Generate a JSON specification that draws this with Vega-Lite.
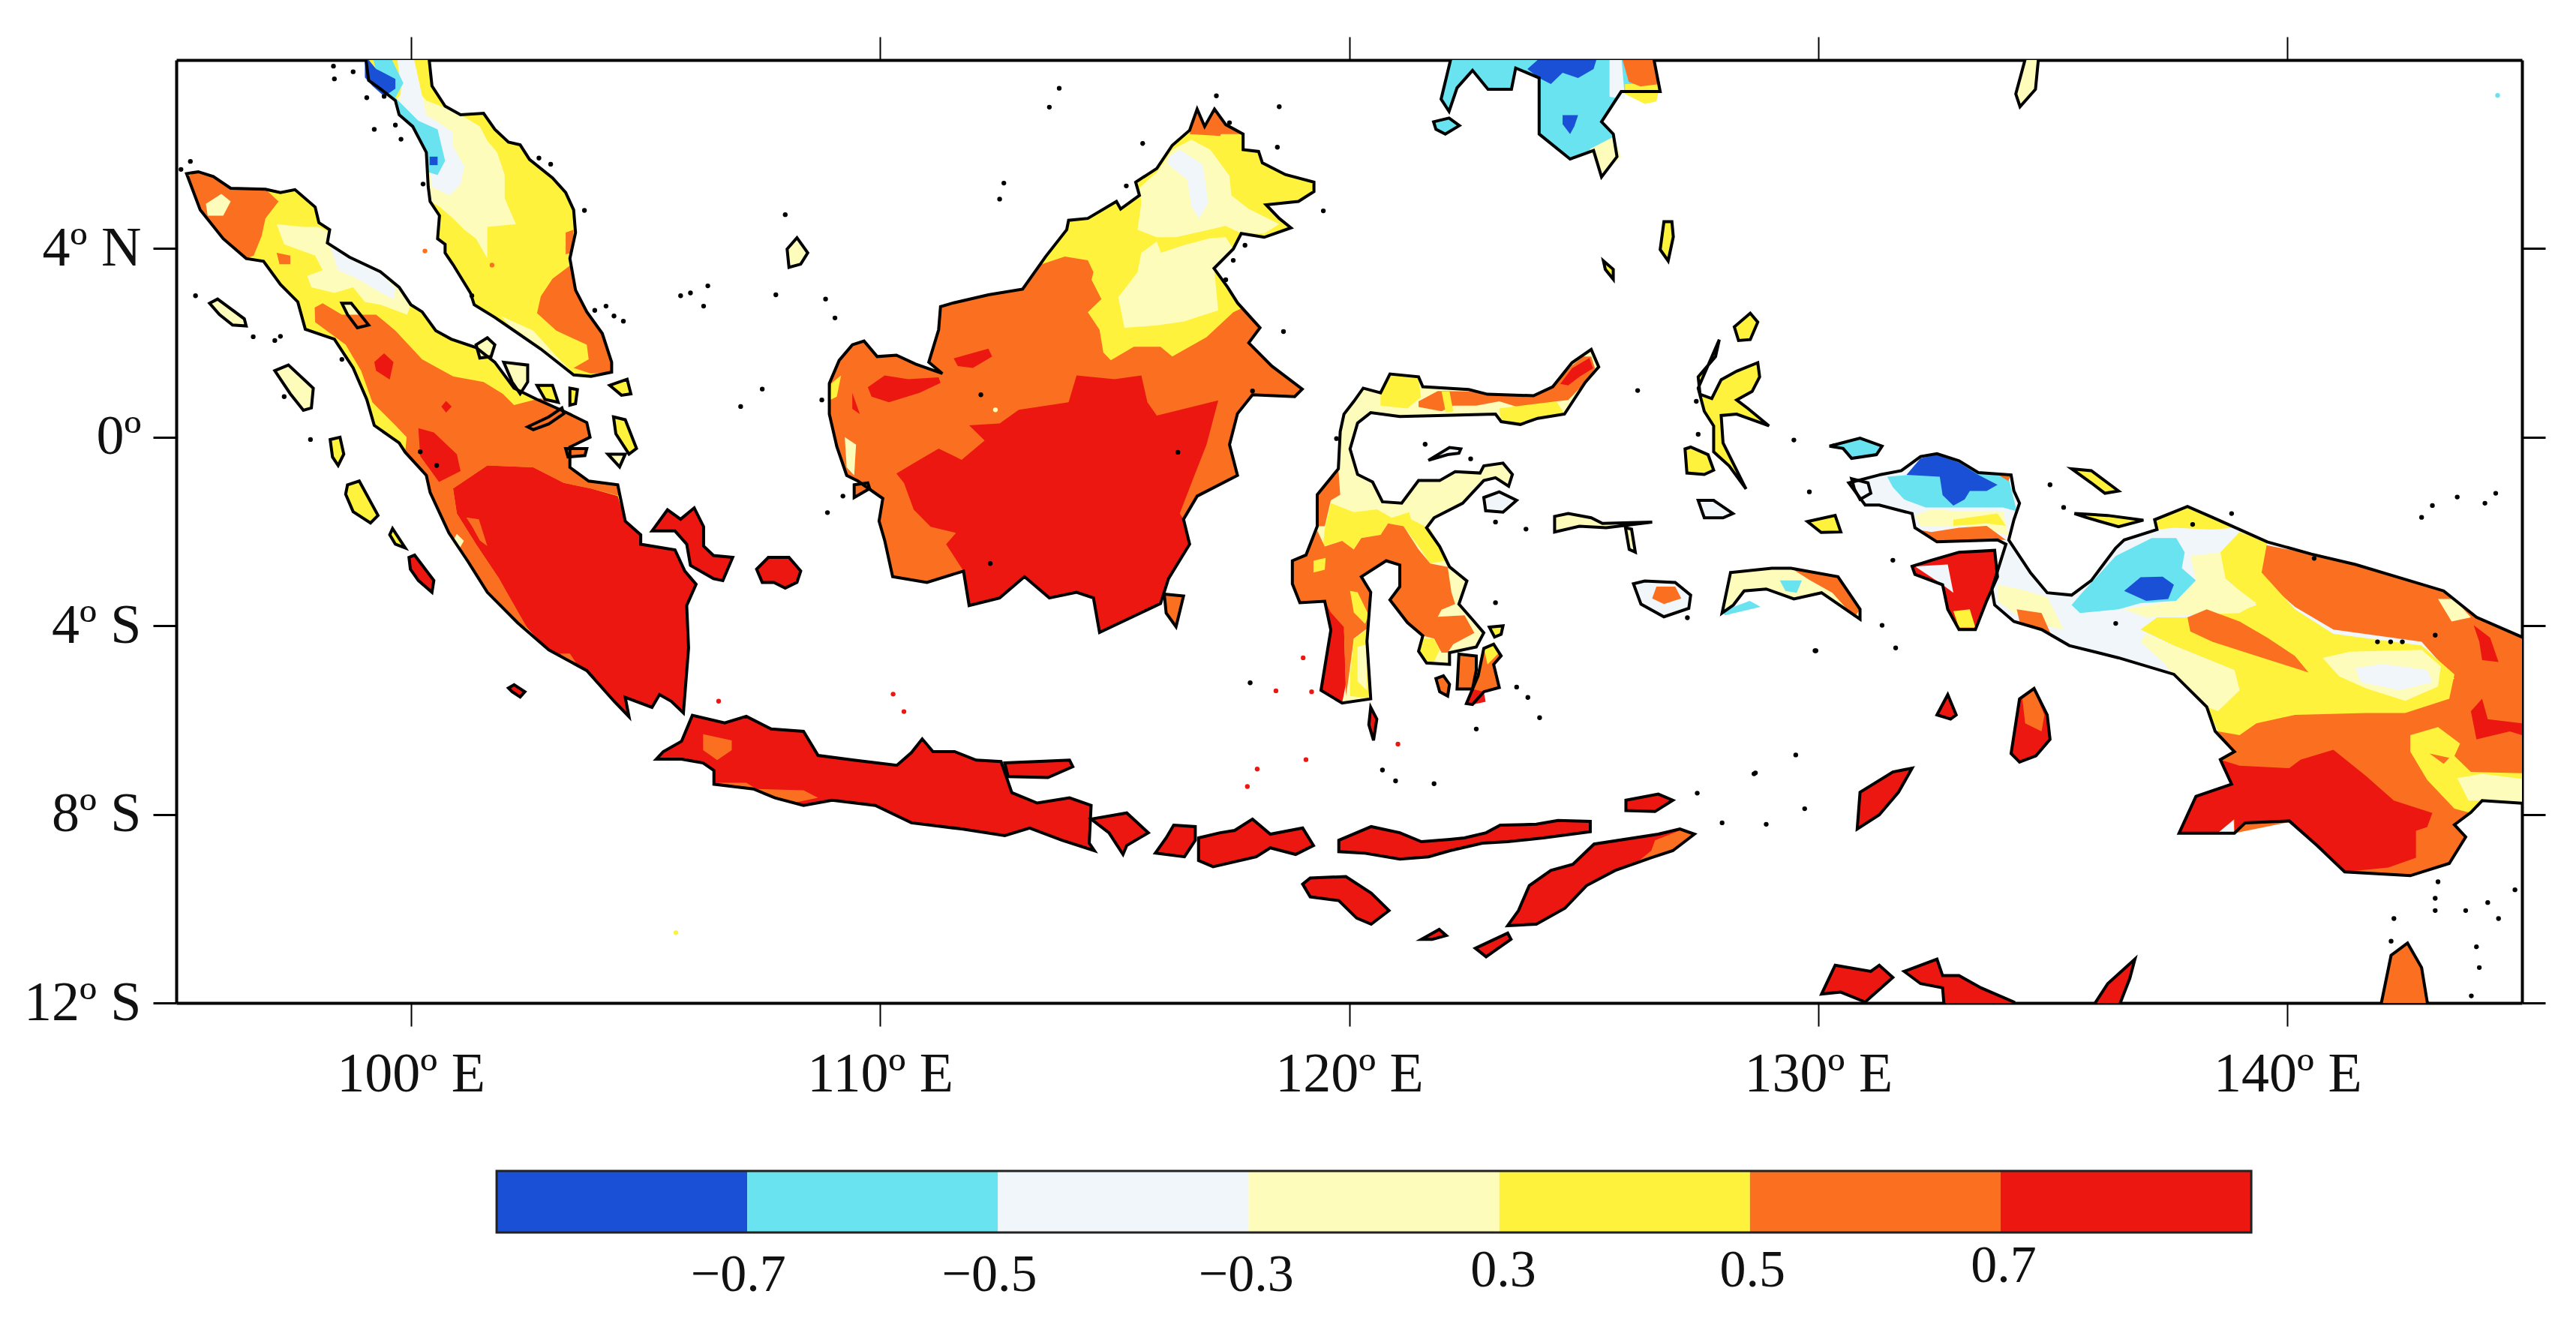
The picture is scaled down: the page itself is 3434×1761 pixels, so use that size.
{"$schema":"https://vega.github.io/schema/vega-lite/v6.json","background":"white","padding":{"left":31,"top":48,"right":0,"bottom":0},"config":{"font":"Liberation Serif","view":{"stroke":null}},"datasets":{"coast":[
{"p":"sum","c":"yellow","lon":95.22,"lat":5.59},{"p":"sum","c":"yellow","lon":95.47,"lat":5.63},{"p":"sum","c":"yellow","lon":95.79,"lat":5.53},{"p":"sum","c":"yellow","lon":96.16,"lat":5.28},{"p":"sum","c":"yellow","lon":96.9,"lat":5.26},{"p":"sum","c":"yellow","lon":97.22,"lat":5.19},{"p":"sum","c":"yellow","lon":97.53,"lat":5.25},{"p":"sum","c":"yellow","lon":97.96,"lat":4.88},{"p":"sum","c":"yellow","lon":98.04,"lat":4.55},{"p":"sum","c":"yellow","lon":98.27,"lat":4.4},{"p":"sum","c":"yellow","lon":98.22,"lat":4.12},{"p":"sum","c":"yellow","lon":98.69,"lat":3.82},{"p":"sum","c":"yellow","lon":99.35,"lat":3.51},{"p":"sum","c":"yellow","lon":99.75,"lat":3.18},{"p":"sum","c":"yellow","lon":100.0,"lat":2.81},{"p":"sum","c":"yellow","lon":100.24,"lat":2.66},{"p":"sum","c":"yellow","lon":100.53,"lat":2.26},{"p":"sum","c":"yellow","lon":100.86,"lat":2.08},{"p":"sum","c":"yellow","lon":101.39,"lat":1.9},{"p":"sum","c":"yellow","lon":101.79,"lat":1.59},{"p":"sum","c":"yellow","lon":102.2,"lat":1.04},{"p":"sum","c":"yellow","lon":102.69,"lat":0.8},{"p":"sum","c":"yellow","lon":103.26,"lat":0.55},{"p":"sum","c":"yellow","lon":103.75,"lat":0.31},{"p":"sum","c":"yellow","lon":103.82,"lat":0},{"p":"sum","c":"yellow","lon":103.39,"lat":-0.21},{"p":"sum","c":"yellow","lon":103.39,"lat":-0.64},{"p":"sum","c":"yellow","lon":103.79,"lat":-0.93},{"p":"sum","c":"yellow","lon":104.41,"lat":-1.01},{"p":"sum","c":"yellow","lon":104.57,"lat":-1.78},{"p":"sum","c":"yellow","lon":104.9,"lat":-2.07},{"p":"sum","c":"yellow","lon":104.9,"lat":-2.27},{"p":"sum","c":"yellow","lon":105.63,"lat":-2.39},{"p":"sum","c":"yellow","lon":105.84,"lat":-2.84},{"p":"sum","c":"yellow","lon":106.08,"lat":-3.12},{"p":"sum","c":"yellow","lon":105.88,"lat":-3.57},{"p":"sum","c":"yellow","lon":105.92,"lat":-4.47},{"p":"sum","c":"yellow","lon":105.81,"lat":-5.85},{"p":"sum","c":"yellow","lon":105.55,"lat":-5.6},{"p":"sum","c":"yellow","lon":105.3,"lat":-5.46},{"p":"sum","c":"yellow","lon":105.14,"lat":-5.73},{"p":"sum","c":"yellow","lon":104.57,"lat":-5.52},{"p":"sum","c":"yellow","lon":104.65,"lat":-5.93},{"p":"sum","c":"yellow","lon":104.33,"lat":-5.6},{"p":"sum","c":"yellow","lon":103.75,"lat":-4.95},{"p":"sum","c":"yellow","lon":102.94,"lat":-4.51},{"p":"sum","c":"yellow","lon":102.28,"lat":-3.94},{"p":"sum","c":"yellow","lon":101.63,"lat":-3.29},{"p":"sum","c":"yellow","lon":101.22,"lat":-2.64},{"p":"sum","c":"yellow","lon":100.81,"lat":-2.03},{"p":"sum","c":"yellow","lon":100.41,"lat":-1.17},{"p":"sum","c":"yellow","lon":100.33,"lat":-0.81},{"p":"sum","c":"yellow","lon":99.88,"lat":-0.32},{"p":"sum","c":"yellow","lon":99.75,"lat":-0.12},{"p":"sum","c":"yellow","lon":99.22,"lat":0.25},{"p":"sum","c":"yellow","lon":99.06,"lat":0.8},{"p":"sum","c":"yellow","lon":98.77,"lat":1.47},{"p":"sum","c":"yellow","lon":98.37,"lat":2.08},{"p":"sum","c":"yellow","lon":97.75,"lat":2.29},{"p":"sum","c":"yellow","lon":97.59,"lat":2.87},{"p":"sum","c":"yellow","lon":97.22,"lat":3.24},{"p":"sum","c":"yellow","lon":96.86,"lat":3.73},{"p":"sum","c":"yellow","lon":96.49,"lat":3.79},{"p":"sum","c":"yellow","lon":96.0,"lat":4.21},{"p":"sum","c":"yellow","lon":95.51,"lat":4.82},
{"p":"mal","c":"yellow","lon":100.37,"lat":8.2},{"p":"mal","c":"yellow","lon":100.45,"lat":7.45},{"p":"mal","c":"yellow","lon":100.73,"lat":7.02},{"p":"mal","c":"yellow","lon":101.06,"lat":6.84},{"p":"mal","c":"yellow","lon":101.55,"lat":6.87},{"p":"mal","c":"yellow","lon":101.79,"lat":6.53},{"p":"mal","c":"yellow","lon":102.08,"lat":6.26},{"p":"mal","c":"yellow","lon":102.33,"lat":6.2},{"p":"mal","c":"yellow","lon":102.53,"lat":5.89},{"p":"mal","c":"yellow","lon":103.02,"lat":5.5},{"p":"mal","c":"yellow","lon":103.3,"lat":5.19},{"p":"mal","c":"yellow","lon":103.47,"lat":4.82},{"p":"mal","c":"yellow","lon":103.51,"lat":4.34},{"p":"mal","c":"yellow","lon":103.39,"lat":3.79},{"p":"mal","c":"yellow","lon":103.51,"lat":3.12},{"p":"mal","c":"yellow","lon":103.75,"lat":2.66},{"p":"mal","c":"yellow","lon":104.08,"lat":2.2},{"p":"mal","c":"yellow","lon":104.28,"lat":1.59},{"p":"mal","c":"yellow","lon":104.28,"lat":1.38},{"p":"mal","c":"yellow","lon":103.84,"lat":1.29},{"p":"mal","c":"yellow","lon":103.47,"lat":1.32},{"p":"mal","c":"yellow","lon":102.77,"lat":1.87},{"p":"mal","c":"yellow","lon":102.2,"lat":2.26},{"p":"mal","c":"yellow","lon":101.79,"lat":2.54},{"p":"mal","c":"yellow","lon":101.35,"lat":2.81},{"p":"mal","c":"yellow","lon":101.27,"lat":3.06},{"p":"mal","c":"yellow","lon":100.9,"lat":3.66},{"p":"mal","c":"yellow","lon":100.73,"lat":3.91},{"p":"mal","c":"yellow","lon":100.73,"lat":4.09},{"p":"mal","c":"yellow","lon":100.57,"lat":4.21},{"p":"mal","c":"yellow","lon":100.61,"lat":4.7},{"p":"mal","c":"yellow","lon":100.41,"lat":5.0},{"p":"mal","c":"yellow","lon":100.37,"lat":5.31},{"p":"mal","c":"yellow","lon":100.33,"lat":6.04},{"p":"mal","c":"yellow","lon":100.04,"lat":6.59},{"p":"mal","c":"yellow","lon":99.75,"lat":6.84},{"p":"mal","c":"yellow","lon":99.67,"lat":7.14},{"p":"mal","c":"yellow","lon":99.35,"lat":7.39},{"p":"mal","c":"yellow","lon":99.1,"lat":7.57},{"p":"mal","c":"yellow","lon":99.02,"lat":8.2},
{"p":"sim","c":"pale","lon":95.71,"lat":2.84},{"p":"sim","c":"pale","lon":95.88,"lat":2.93},{"p":"sim","c":"pale","lon":96.45,"lat":2.51},{"p":"sim","c":"pale","lon":96.49,"lat":2.36},{"p":"sim","c":"pale","lon":96.2,"lat":2.38},{"p":"sim","c":"pale","lon":95.92,"lat":2.6},
{"p":"nia","c":"pale","lon":97.1,"lat":1.41},{"p":"nia","c":"pale","lon":97.39,"lat":1.53},{"p":"nia","c":"pale","lon":97.92,"lat":1.04},{"p":"nia","c":"pale","lon":97.88,"lat":0.62},{"p":"nia","c":"pale","lon":97.71,"lat":0.57},{"p":"nia","c":"pale","lon":97.43,"lat":0.92},
{"p":"sib","c":"yellow","lon":98.65,"lat":-1.01},{"p":"sib","c":"yellow","lon":98.9,"lat":-0.93},{"p":"sib","c":"yellow","lon":99.3,"lat":-1.66},{"p":"sib","c":"yellow","lon":99.14,"lat":-1.82},{"p":"sib","c":"yellow","lon":98.77,"lat":-1.58},{"p":"sib","c":"yellow","lon":98.61,"lat":-1.21},
{"p":"sip","c":"yellow","lon":99.55,"lat":-2.07},{"p":"sip","c":"yellow","lon":99.61,"lat":-1.94},{"p":"sip","c":"yellow","lon":99.88,"lat":-2.35},{"p":"sip","c":"yellow","lon":99.67,"lat":-2.27},
{"p":"pag","c":"red","lon":99.96,"lat":-2.55},{"p":"pag","c":"red","lon":100.08,"lat":-2.5},{"p":"pag","c":"red","lon":100.49,"lat":-3.04},{"p":"pag","c":"red","lon":100.45,"lat":-3.29},{"p":"pag","c":"red","lon":100.16,"lat":-3.04},{"p":"pag","c":"red","lon":99.99,"lat":-2.8},
{"p":"eng","c":"red","lon":102.08,"lat":-5.32},{"p":"eng","c":"red","lon":102.2,"lat":-5.25},{"p":"eng","c":"red","lon":102.43,"lat":-5.4},{"p":"eng","c":"red","lon":102.33,"lat":-5.51},{"p":"eng","c":"red","lon":102.16,"lat":-5.4},
{"p":"bat","c":"yellow","lon":98.28,"lat":-0.05},{"p":"bat","c":"yellow","lon":98.49,"lat":0},{"p":"bat","c":"yellow","lon":98.57,"lat":-0.36},{"p":"bat","c":"yellow","lon":98.45,"lat":-0.6},{"p":"bat","c":"yellow","lon":98.33,"lat":-0.42},
{"p":"tob","c":"pale","lon":98.53,"lat":2.84},{"p":"tob","c":"pale","lon":98.73,"lat":2.84},{"p":"tob","c":"pale","lon":99.1,"lat":2.38},{"p":"tob","c":"pale","lon":98.86,"lat":2.32},{"p":"tob","c":"pale","lon":98.65,"lat":2.6},
{"p":"ban","c":"red","lon":105.14,"lat":-1.99},{"p":"ban","c":"red","lon":105.47,"lat":-1.54},{"p":"ban","c":"red","lon":105.75,"lat":-1.74},{"p":"ban","c":"red","lon":106.04,"lat":-1.5},{"p":"ban","c":"red","lon":106.24,"lat":-1.9},{"p":"ban","c":"red","lon":106.24,"lat":-2.31},{"p":"ban","c":"red","lon":106.45,"lat":-2.51},{"p":"ban","c":"red","lon":106.86,"lat":-2.55},{"p":"ban","c":"red","lon":106.65,"lat":-3.04},{"p":"ban","c":"red","lon":106.45,"lat":-3.0},{"p":"ban","c":"red","lon":105.96,"lat":-2.72},{"p":"ban","c":"red","lon":105.88,"lat":-2.27},{"p":"ban","c":"red","lon":105.63,"lat":-1.99},
{"p":"bel","c":"red","lon":107.37,"lat":-2.8},{"p":"bel","c":"red","lon":107.62,"lat":-2.55},{"p":"bel","c":"red","lon":108.06,"lat":-2.55},{"p":"bel","c":"red","lon":108.31,"lat":-2.84},{"p":"bel","c":"red","lon":108.23,"lat":-3.08},{"p":"bel","c":"red","lon":107.98,"lat":-3.2},{"p":"bel","c":"red","lon":107.74,"lat":-3.08},{"p":"bel","c":"red","lon":107.49,"lat":-3.08},
{"p":"r1","c":"pale","lon":101.98,"lat":1.59},{"p":"r1","c":"pale","lon":102.49,"lat":1.53},{"p":"r1","c":"pale","lon":102.49,"lat":1.17},{"p":"r1","c":"pale","lon":102.33,"lat":0.92},{"p":"r1","c":"pale","lon":102.16,"lat":1.17},
{"p":"r2","c":"pale","lon":101.39,"lat":1.96},{"p":"r2","c":"pale","lon":101.63,"lat":2.11},{"p":"r2","c":"pale","lon":101.79,"lat":1.96},{"p":"r2","c":"pale","lon":101.71,"lat":1.71},{"p":"r2","c":"pale","lon":101.47,"lat":1.68},
{"p":"r3","c":"yellow","lon":102.69,"lat":1.1},{"p":"r3","c":"yellow","lon":103.02,"lat":1.1},{"p":"r3","c":"yellow","lon":103.14,"lat":0.74},{"p":"r3","c":"yellow","lon":102.86,"lat":0.8},
{"p":"r4","c":"yellow","lon":104.24,"lat":1.1},{"p":"r4","c":"yellow","lon":104.61,"lat":1.23},{"p":"r4","c":"yellow","lon":104.69,"lat":0.92},{"p":"r4","c":"yellow","lon":104.49,"lat":0.89},
{"p":"r5","c":"yellow","lon":103.39,"lat":1.04},{"p":"r5","c":"yellow","lon":103.55,"lat":1.01},{"p":"r5","c":"yellow","lon":103.51,"lat":0.71},{"p":"r5","c":"yellow","lon":103.39,"lat":0.68},
{"p":"r6","c":"yellow","lon":104.32,"lat":0.43},{"p":"r6","c":"yellow","lon":104.57,"lat":0.37},{"p":"r6","c":"yellow","lon":104.81,"lat":-0.24},{"p":"r6","c":"yellow","lon":104.65,"lat":-0.36},{"p":"r6","c":"yellow","lon":104.37,"lat":0.07},
{"p":"r7","c":"pale","lon":104.2,"lat":-0.36},{"p":"r7","c":"pale","lon":104.57,"lat":-0.36},{"p":"r7","c":"pale","lon":104.45,"lat":-0.63},
{"p":"r8","c":"orange","lon":103.3,"lat":-0.24},{"p":"r8","c":"orange","lon":103.75,"lat":-0.24},{"p":"r8","c":"orange","lon":103.71,"lat":-0.39},{"p":"r8","c":"orange","lon":103.35,"lat":-0.42},
{"p":"r9","c":"orange","lon":102.49,"lat":0.22},{"p":"r9","c":"orange","lon":102.94,"lat":0.43},{"p":"r9","c":"orange","lon":103.22,"lat":0.62},{"p":"r9","c":"orange","lon":103.26,"lat":0.5},{"p":"r9","c":"orange","lon":102.94,"lat":0.28},{"p":"r9","c":"orange","lon":102.61,"lat":0.16},
{"p":"bor","c":"orange","lon":109.41,"lat":1.96},{"p":"bor","c":"orange","lon":109.66,"lat":2.04},{"p":"bor","c":"orange","lon":109.94,"lat":1.71},{"p":"bor","c":"orange","lon":110.35,"lat":1.74},{"p":"bor","c":"orange","lon":110.76,"lat":1.55},{"p":"bor","c":"orange","lon":111.33,"lat":1.35},{"p":"bor","c":"orange","lon":111.04,"lat":1.59},{"p":"bor","c":"orange","lon":111.25,"lat":2.28},{"p":"bor","c":"orange","lon":111.29,"lat":2.77},{"p":"bor","c":"orange","lon":111.57,"lat":2.85},{"p":"bor","c":"orange","lon":112.31,"lat":3.02},{"p":"bor","c":"orange","lon":113.04,"lat":3.14},{"p":"bor","c":"orange","lon":113.53,"lat":3.83},{"p":"bor","c":"orange","lon":113.98,"lat":4.4},{"p":"bor","c":"orange","lon":114.02,"lat":4.6},{"p":"bor","c":"orange","lon":114.43,"lat":4.64},{"p":"bor","c":"orange","lon":115.04,"lat":5.0},{"p":"bor","c":"orange","lon":115.13,"lat":4.84},{"p":"bor","c":"orange","lon":115.53,"lat":5.13},{"p":"bor","c":"orange","lon":115.45,"lat":5.41},{"p":"bor","c":"orange","lon":115.9,"lat":5.7},{"p":"bor","c":"orange","lon":116.23,"lat":6.19},{"p":"bor","c":"orange","lon":116.6,"lat":6.51},{"p":"bor","c":"orange","lon":116.76,"lat":6.96},{"p":"bor","c":"orange","lon":116.92,"lat":6.59},{"p":"bor","c":"orange","lon":117.13,"lat":6.96},{"p":"bor","c":"orange","lon":117.37,"lat":6.63},{"p":"bor","c":"orange","lon":117.74,"lat":6.43},{"p":"bor","c":"orange","lon":117.74,"lat":6.1},{"p":"bor","c":"orange","lon":118.07,"lat":6.06},{"p":"bor","c":"orange","lon":118.15,"lat":5.82},{"p":"bor","c":"orange","lon":118.64,"lat":5.57},{"p":"bor","c":"orange","lon":119.25,"lat":5.41},{"p":"bor","c":"orange","lon":119.25,"lat":5.21},{"p":"bor","c":"orange","lon":118.92,"lat":5.0},{"p":"bor","c":"orange","lon":118.23,"lat":4.93},{"p":"bor","c":"orange","lon":118.51,"lat":4.64},{"p":"bor","c":"orange","lon":118.76,"lat":4.44},{"p":"bor","c":"orange","lon":118.19,"lat":4.24},{"p":"bor","c":"orange","lon":117.7,"lat":4.32},{"p":"bor","c":"orange","lon":117.53,"lat":3.99},{"p":"bor","c":"orange","lon":117.12,"lat":3.58},{"p":"bor","c":"orange","lon":117.41,"lat":3.18},{"p":"bor","c":"orange","lon":117.62,"lat":2.85},{"p":"bor","c":"orange","lon":118.1,"lat":2.32},{"p":"bor","c":"orange","lon":117.86,"lat":2.0},{"p":"bor","c":"orange","lon":118.35,"lat":1.51},{"p":"bor","c":"orange","lon":119.0,"lat":1.02},{"p":"bor","c":"orange","lon":118.84,"lat":0.86},{"p":"bor","c":"orange","lon":117.94,"lat":0.9},{"p":"bor","c":"orange","lon":117.62,"lat":0.5},{"p":"bor","c":"orange","lon":117.45,"lat":-0.16},{"p":"bor","c":"orange","lon":117.62,"lat":-0.81},{"p":"bor","c":"orange","lon":116.76,"lat":-1.25},{"p":"bor","c":"orange","lon":116.47,"lat":-1.74},{"p":"bor","c":"orange","lon":116.6,"lat":-2.27},{"p":"bor","c":"orange","lon":116.15,"lat":-3.0},{"p":"bor","c":"orange","lon":115.98,"lat":-3.53},{"p":"bor","c":"orange","lon":114.68,"lat":-4.14},{"p":"bor","c":"orange","lon":114.55,"lat":-3.41},{"p":"bor","c":"orange","lon":114.19,"lat":-3.29},{"p":"bor","c":"orange","lon":113.61,"lat":-3.41},{"p":"bor","c":"orange","lon":113.08,"lat":-2.96},{"p":"bor","c":"orange","lon":112.55,"lat":-3.41},{"p":"bor","c":"orange","lon":111.9,"lat":-3.57},{"p":"bor","c":"orange","lon":111.78,"lat":-2.84},{"p":"bor","c":"orange","lon":111.0,"lat":-3.08},{"p":"bor","c":"orange","lon":110.27,"lat":-2.96},{"p":"bor","c":"orange","lon":110.1,"lat":-2.19},{"p":"bor","c":"orange","lon":109.98,"lat":-1.78},{"p":"bor","c":"orange","lon":110.06,"lat":-1.3},{"p":"bor","c":"orange","lon":109.53,"lat":-0.93},{"p":"bor","c":"orange","lon":109.29,"lat":-0.81},{"p":"bor","c":"orange","lon":109.08,"lat":-0.2},{"p":"bor","c":"orange","lon":108.92,"lat":0.49},{"p":"bor","c":"orange","lon":108.92,"lat":1.14},{"p":"bor","c":"orange","lon":109.13,"lat":1.63},
{"p":"lau","c":"orange","lon":116.06,"lat":-3.33},{"p":"lau","c":"orange","lon":116.47,"lat":-3.37},{"p":"lau","c":"orange","lon":116.31,"lat":-4.02},{"p":"lau","c":"orange","lon":116.1,"lat":-3.73},
{"p":"nat","c":"pale","lon":108.02,"lat":3.99},{"p":"nat","c":"pale","lon":108.23,"lat":4.23},{"p":"nat","c":"pale","lon":108.46,"lat":3.91},{"p":"nat","c":"pale","lon":108.31,"lat":3.67},{"p":"nat","c":"pale","lon":108.06,"lat":3.6},
{"p":"kar","c":"orange","lon":109.45,"lat":-1.01},{"p":"kar","c":"orange","lon":109.74,"lat":-0.97},{"p":"kar","c":"orange","lon":109.78,"lat":-1.09},{"p":"kar","c":"orange","lon":109.45,"lat":-1.28},
{"p":"sul","c":"pale","lon":125.16,"lat":1.86},{"p":"sul","c":"pale","lon":125.32,"lat":1.49},{"p":"sul","c":"pale","lon":125.03,"lat":1.16},{"p":"sul","c":"pale","lon":124.59,"lat":0.49},{"p":"sul","c":"pale","lon":124.02,"lat":0.4},{"p":"sul","c":"pale","lon":123.65,"lat":0.27},{"p":"sul","c":"pale","lon":123.24,"lat":0.33},{"p":"sul","c":"pale","lon":123.12,"lat":0.49},{"p":"sul","c":"pale","lon":121.89,"lat":0.46},{"p":"sul","c":"pale","lon":121.08,"lat":0.44},{"p":"sul","c":"pale","lon":120.46,"lat":0.52},{"p":"sul","c":"pale","lon":120.18,"lat":0.3},{"p":"sul","c":"pale","lon":120.02,"lat":-0.25},{"p":"sul","c":"pale","lon":120.18,"lat":-0.79},{"p":"sul","c":"pale","lon":120.5,"lat":-0.95},{"p":"sul","c":"pale","lon":120.71,"lat":-1.37},{"p":"sul","c":"pale","lon":121.12,"lat":-1.4},{"p":"sul","c":"pale","lon":121.48,"lat":-0.92},{"p":"sul","c":"pale","lon":121.93,"lat":-0.92},{"p":"sul","c":"pale","lon":122.26,"lat":-0.73},{"p":"sul","c":"pale","lon":122.79,"lat":-0.76},{"p":"sul","c":"pale","lon":122.87,"lat":-0.61},{"p":"sul","c":"pale","lon":123.28,"lat":-0.55},{"p":"sul","c":"pale","lon":123.48,"lat":-0.79},{"p":"sul","c":"pale","lon":123.4,"lat":-1.04},{"p":"sul","c":"pale","lon":123.12,"lat":-0.86},{"p":"sul","c":"pale","lon":122.87,"lat":-0.92},{"p":"sul","c":"pale","lon":122.42,"lat":-1.4},{"p":"sul","c":"pale","lon":121.81,"lat":-1.71},{"p":"sul","c":"pale","lon":121.65,"lat":-1.92},{"p":"sul","c":"pale","lon":121.93,"lat":-2.32},{"p":"sul","c":"pale","lon":122.14,"lat":-2.75},{"p":"sul","c":"pale","lon":122.51,"lat":-3.05},{"p":"sul","c":"pale","lon":122.34,"lat":-3.54},{"p":"sul","c":"pale","lon":122.63,"lat":-3.87},{"p":"sul","c":"pale","lon":122.87,"lat":-4.15},{"p":"sul","c":"pale","lon":122.71,"lat":-4.45},{"p":"sul","c":"pale","lon":122.14,"lat":-4.57},{"p":"sul","c":"pale","lon":122.14,"lat":-4.82},{"p":"sul","c":"pale","lon":121.65,"lat":-4.79},{"p":"sul","c":"pale","lon":121.48,"lat":-4.54},{"p":"sul","c":"pale","lon":121.57,"lat":-4.21},{"p":"sul","c":"pale","lon":121.24,"lat":-3.93},{"p":"sul","c":"pale","lon":120.87,"lat":-3.45},{"p":"sul","c":"pale","lon":121.08,"lat":-3.17},{"p":"sul","c":"pale","lon":121.08,"lat":-2.71},{"p":"sul","c":"pale","lon":120.79,"lat":-2.62},{"p":"sul","c":"pale","lon":120.26,"lat":-2.96},{"p":"sul","c":"pale","lon":120.46,"lat":-3.29},{"p":"sul","c":"pale","lon":120.38,"lat":-4.33},{"p":"sul","c":"pale","lon":120.46,"lat":-5.55},{"p":"sul","c":"pale","lon":119.85,"lat":-5.64},{"p":"sul","c":"pale","lon":119.4,"lat":-5.37},{"p":"sul","c":"pale","lon":119.61,"lat":-4.09},{"p":"sul","c":"pale","lon":119.48,"lat":-3.48},{"p":"sul","c":"pale","lon":118.95,"lat":-3.51},{"p":"sul","c":"pale","lon":118.79,"lat":-3.11},{"p":"sul","c":"pale","lon":118.79,"lat":-2.62},{"p":"sul","c":"pale","lon":119.08,"lat":-2.5},{"p":"sul","c":"pale","lon":119.32,"lat":-1.89},{"p":"sul","c":"pale","lon":119.32,"lat":-1.22},{"p":"sul","c":"pale","lon":119.77,"lat":-0.67},{"p":"sul","c":"pale","lon":119.81,"lat":0.12},{"p":"sul","c":"pale","lon":119.89,"lat":0.49},{"p":"sul","c":"pale","lon":120.1,"lat":0.76},{"p":"sul","c":"pale","lon":120.3,"lat":1.04},{"p":"sul","c":"pale","lon":120.67,"lat":0.94},{"p":"sul","c":"pale","lon":120.87,"lat":1.34},{"p":"sul","c":"pale","lon":121.48,"lat":1.28},{"p":"sul","c":"pale","lon":121.57,"lat":1.07},{"p":"sul","c":"pale","lon":122.55,"lat":1.01},{"p":"sul","c":"pale","lon":122.95,"lat":0.91},{"p":"sul","c":"pale","lon":123.93,"lat":0.88},{"p":"sul","c":"pale","lon":124.34,"lat":1.07},{"p":"sul","c":"pale","lon":124.75,"lat":1.58},
{"p":"mun","c":"orange","lon":122.34,"lat":-4.6},{"p":"mun","c":"orange","lon":122.71,"lat":-4.64},{"p":"mun","c":"orange","lon":122.71,"lat":-4.94},{"p":"mun","c":"orange","lon":122.63,"lat":-5.34},{"p":"mun","c":"orange","lon":122.3,"lat":-5.34},
{"p":"but","c":"orange","lon":122.87,"lat":-4.48},{"p":"but","c":"orange","lon":123.08,"lat":-4.39},{"p":"but","c":"orange","lon":123.24,"lat":-4.64},{"p":"but","c":"orange","lon":123.08,"lat":-4.82},{"p":"but","c":"orange","lon":123.2,"lat":-5.31},{"p":"but","c":"orange","lon":122.87,"lat":-5.4},{"p":"but","c":"orange","lon":122.63,"lat":-5.67},{"p":"but","c":"orange","lon":122.5,"lat":-5.65},{"p":"but","c":"orange","lon":122.63,"lat":-5.34},{"p":"but","c":"orange","lon":122.75,"lat":-5.06},
{"p":"kab","c":"orange","lon":121.85,"lat":-5.12},{"p":"kab","c":"orange","lon":122.01,"lat":-5.06},{"p":"kab","c":"orange","lon":122.14,"lat":-5.24},{"p":"kab","c":"orange","lon":122.1,"lat":-5.49},{"p":"kab","c":"orange","lon":121.93,"lat":-5.4},
{"p":"waw","c":"yellow","lon":122.99,"lat":-4.03},{"p":"waw","c":"yellow","lon":123.28,"lat":-4.0},{"p":"waw","c":"yellow","lon":123.24,"lat":-4.18},{"p":"waw","c":"yellow","lon":123.1,"lat":-4.24},
{"p":"sel","c":"red","lon":120.46,"lat":-5.73},{"p":"sel","c":"red","lon":120.59,"lat":-5.98},{"p":"sel","c":"red","lon":120.52,"lat":-6.43},{"p":"sel","c":"red","lon":120.42,"lat":-6.1},
{"p":"pel","c":"pale","lon":124.38,"lat":-1.68},{"p":"pel","c":"pale","lon":124.67,"lat":-1.62},{"p":"pel","c":"pale","lon":125.16,"lat":-1.71},{"p":"pel","c":"pale","lon":125.4,"lat":-1.83},{"p":"pel","c":"pale","lon":126.46,"lat":-1.8},{"p":"pel","c":"pale","lon":125.48,"lat":-1.92},{"p":"pel","c":"pale","lon":124.91,"lat":-1.89},{"p":"pel","c":"pale","lon":124.38,"lat":-2.01},
{"p":"man","c":"pale","lon":125.89,"lat":-1.92},{"p":"man","c":"pale","lon":126.02,"lat":-1.95},{"p":"man","c":"pale","lon":126.1,"lat":-2.44},{"p":"man","c":"pale","lon":125.97,"lat":-2.38},
{"p":"tog","c":"white","lon":121.69,"lat":-0.49},{"p":"tog","c":"white","lon":122.14,"lat":-0.22},{"p":"tog","c":"white","lon":122.38,"lat":-0.25},{"p":"tog","c":"white","lon":122.34,"lat":-0.34},{"p":"tog","c":"white","lon":122.1,"lat":-0.37},
{"p":"bag","c":"white","lon":122.87,"lat":-1.28},{"p":"bag","c":"white","lon":123.2,"lat":-1.16},{"p":"bag","c":"white","lon":123.57,"lat":-1.34},{"p":"bag","c":"white","lon":123.28,"lat":-1.59},{"p":"bag","c":"white","lon":122.91,"lat":-1.56},
{"p":"hal","c":"yellow","lon":127.89,"lat":2.07},{"p":"hal","c":"yellow","lon":127.81,"lat":1.71},{"p":"hal","c":"yellow","lon":127.44,"lat":1.28},{"p":"hal","c":"yellow","lon":127.48,"lat":0.91},{"p":"hal","c":"yellow","lon":127.73,"lat":0.82},{"p":"hal","c":"yellow","lon":127.93,"lat":1.22},{"p":"hal","c":"yellow","lon":128.26,"lat":1.4},{"p":"hal","c":"yellow","lon":128.71,"lat":1.58},{"p":"hal","c":"yellow","lon":128.75,"lat":1.28},{"p":"hal","c":"yellow","lon":128.59,"lat":0.97},{"p":"hal","c":"yellow","lon":128.26,"lat":0.79},{"p":"hal","c":"yellow","lon":128.5,"lat":0.61},{"p":"hal","c":"yellow","lon":128.95,"lat":0.24},{"p":"hal","c":"yellow","lon":128.26,"lat":0.49},{"p":"hal","c":"yellow","lon":127.93,"lat":0.46},{"p":"hal","c":"yellow","lon":127.97,"lat":-0.12},{"p":"hal","c":"yellow","lon":128.46,"lat":-1.1},{"p":"hal","c":"yellow","lon":128.1,"lat":-0.61},{"p":"hal","c":"yellow","lon":127.77,"lat":-0.31},{"p":"hal","c":"yellow","lon":127.77,"lat":0.24},{"p":"hal","c":"yellow","lon":127.57,"lat":0.55},{"p":"hal","c":"yellow","lon":127.44,"lat":1.04},
{"p":"mor","c":"yellow","lon":128.21,"lat":2.34},{"p":"mor","c":"yellow","lon":128.55,"lat":2.63},{"p":"mor","c":"yellow","lon":128.71,"lat":2.44},{"p":"mor","c":"yellow","lon":128.55,"lat":2.07},{"p":"mor","c":"yellow","lon":128.3,"lat":2.05},
{"p":"obi","c":"white","lon":127.44,"lat":-1.34},{"p":"obi","c":"white","lon":127.77,"lat":-1.34},{"p":"obi","c":"white","lon":128.18,"lat":-1.62},{"p":"obi","c":"white","lon":127.97,"lat":-1.71},{"p":"obi","c":"white","lon":127.57,"lat":-1.71},
{"p":"bac","c":"yellow","lon":127.16,"lat":-0.25},{"p":"bac","c":"yellow","lon":127.28,"lat":-0.21},{"p":"bac","c":"yellow","lon":127.65,"lat":-0.37},{"p":"bac","c":"yellow","lon":127.77,"lat":-0.7},{"p":"bac","c":"yellow","lon":127.57,"lat":-0.79},{"p":"bac","c":"yellow","lon":127.2,"lat":-0.76},
{"p":"mis","c":"yellow","lon":129.77,"lat":-1.79},{"p":"mis","c":"yellow","lon":130.36,"lat":-1.66},{"p":"mis","c":"yellow","lon":130.48,"lat":-2.01},{"p":"mis","c":"yellow","lon":130.06,"lat":-2.02},
{"p":"bur","c":"white","lon":126.06,"lat":-3.11},{"p":"bur","c":"white","lon":126.3,"lat":-3.05},{"p":"bur","c":"white","lon":126.95,"lat":-3.08},{"p":"bur","c":"white","lon":127.28,"lat":-3.35},{"p":"bur","c":"white","lon":127.24,"lat":-3.63},{"p":"bur","c":"white","lon":126.71,"lat":-3.81},{"p":"bur","c":"white","lon":126.22,"lat":-3.54},
{"p":"ser","c":"pale","lon":128.13,"lat":-2.87},{"p":"ser","c":"pale","lon":129.01,"lat":-2.78},{"p":"ser","c":"pale","lon":129.42,"lat":-2.78},{"p":"ser","c":"pale","lon":130.42,"lat":-2.96},{"p":"ser","c":"pale","lon":130.89,"lat":-3.65},{"p":"ser","c":"pale","lon":130.89,"lat":-3.86},{"p":"ser","c":"pale","lon":130.07,"lat":-3.3},{"p":"ser","c":"pale","lon":129.48,"lat":-3.43},{"p":"ser","c":"pale","lon":128.89,"lat":-3.22},{"p":"ser","c":"pale","lon":128.42,"lat":-3.26},{"p":"ser","c":"pale","lon":128.19,"lat":-3.56},{"p":"ser","c":"pale","lon":127.95,"lat":-3.73},
{"p":"pap","c":"white","lon":131.3,"lat":-0.8},{"p":"pap","c":"white","lon":131.77,"lat":-0.71},{"p":"pap","c":"white","lon":132.18,"lat":-0.41},{"p":"pap","c":"white","lon":132.53,"lat":-0.35},{"p":"pap","c":"white","lon":133.0,"lat":-0.5},{"p":"pap","c":"white","lon":133.41,"lat":-0.75},{"p":"pap","c":"white","lon":134.11,"lat":-0.8},{"p":"pap","c":"white","lon":134.17,"lat":-1.14},{"p":"pap","c":"white","lon":134.29,"lat":-1.4},{"p":"pap","c":"white","lon":134.17,"lat":-1.75},{"p":"pap","c":"white","lon":134.06,"lat":-2.18},{"p":"pap","c":"white","lon":134.52,"lat":-2.87},{"p":"pap","c":"white","lon":134.88,"lat":-3.3},{"p":"pap","c":"white","lon":135.4,"lat":-3.35},{"p":"pap","c":"white","lon":135.82,"lat":-3.04},{"p":"pap","c":"white","lon":136.34,"lat":-2.35},{"p":"pap","c":"white","lon":136.52,"lat":-2.18},{"p":"pap","c":"white","lon":137.22,"lat":-1.96},{"p":"pap","c":"white","lon":137.17,"lat":-1.75},{"p":"pap","c":"white","lon":137.87,"lat":-1.47},{"p":"pap","c":"white","lon":138.4,"lat":-1.7},{"p":"pap","c":"white","lon":139.57,"lat":-2.22},{"p":"pap","c":"white","lon":140.51,"lat":-2.48},{"p":"pap","c":"white","lon":141.45,"lat":-2.7},{"p":"pap","c":"white","lon":143.33,"lat":-3.26},{"p":"pap","c":"white","lon":144.03,"lat":-3.82},{"p":"pap","c":"white","lon":145.6,"lat":-4.5},{"p":"pap","c":"white","lon":145.6,"lat":-7.8},{"p":"pap","c":"white","lon":144.15,"lat":-7.71},{"p":"pap","c":"white","lon":143.91,"lat":-7.96},{"p":"pap","c":"white","lon":143.56,"lat":-8.22},{"p":"pap","c":"white","lon":143.8,"lat":-8.48},{"p":"pap","c":"white","lon":143.45,"lat":-9.04},{"p":"pap","c":"white","lon":142.62,"lat":-9.3},{"p":"pap","c":"white","lon":141.22,"lat":-9.22},{"p":"pap","c":"white","lon":140.63,"lat":-8.66},{"p":"pap","c":"white","lon":140.04,"lat":-8.14},{"p":"pap","c":"white","lon":139.1,"lat":-8.18},{"p":"pap","c":"white","lon":138.87,"lat":-8.4},{"p":"pap","c":"white","lon":137.69,"lat":-8.4},{"p":"pap","c":"white","lon":138.05,"lat":-7.62},{"p":"pap","c":"white","lon":138.81,"lat":-7.36},{"p":"pap","c":"white","lon":138.57,"lat":-6.84},{"p":"pap","c":"white","lon":138.87,"lat":-6.67},{"p":"pap","c":"white","lon":138.46,"lat":-6.24},{"p":"pap","c":"white","lon":138.28,"lat":-5.72},{"p":"pap","c":"white","lon":137.58,"lat":-5.03},{"p":"pap","c":"white","lon":136.4,"lat":-4.68},{"p":"pap","c":"white","lon":135.35,"lat":-4.42},{"p":"pap","c":"white","lon":134.76,"lat":-4.08},{"p":"pap","c":"white","lon":134.17,"lat":-3.91},{"p":"pap","c":"white","lon":133.76,"lat":-3.56},{"p":"pap","c":"white","lon":133.7,"lat":-3.22},{"p":"pap","c":"white","lon":134.0,"lat":-2.27},{"p":"pap","c":"white","lon":133.82,"lat":-2.18},{"p":"pap","c":"white","lon":132.53,"lat":-2.22},{"p":"pap","c":"white","lon":132.06,"lat":-1.92},{"p":"pap","c":"white","lon":132.0,"lat":-1.62},{"p":"pap","c":"white","lon":131.3,"lat":-1.44},{"p":"pap","c":"white","lon":131.0,"lat":-1.44},{"p":"pap","c":"white","lon":130.65,"lat":-0.97},
{"p":"bom","c":"red","lon":132.0,"lat":-2.74},{"p":"bom","c":"red","lon":132.41,"lat":-2.61},{"p":"bom","c":"red","lon":133.0,"lat":-2.44},{"p":"bom","c":"red","lon":133.76,"lat":-2.4},{"p":"bom","c":"red","lon":133.82,"lat":-2.96},{"p":"bom","c":"red","lon":133.59,"lat":-3.47},{"p":"bom","c":"red","lon":133.35,"lat":-4.08},{"p":"bom","c":"red","lon":133.0,"lat":-4.08},{"p":"bom","c":"red","lon":132.76,"lat":-3.65},{"p":"bom","c":"red","lon":132.65,"lat":-3.13},{"p":"bom","c":"red","lon":132.06,"lat":-2.91},
{"p":"bia","c":"yellow","lon":135.4,"lat":-0.67},{"p":"bia","c":"yellow","lon":135.82,"lat":-0.71},{"p":"bia","c":"yellow","lon":136.4,"lat":-1.14},{"p":"bia","c":"yellow","lon":136.11,"lat":-1.19},{"p":"bia","c":"yellow","lon":135.82,"lat":-0.97},
{"p":"yap","c":"yellow","lon":135.46,"lat":-1.62},{"p":"yap","c":"yellow","lon":136.17,"lat":-1.66},{"p":"yap","c":"yellow","lon":136.93,"lat":-1.76},{"p":"yap","c":"yellow","lon":136.4,"lat":-1.9},{"p":"yap","c":"yellow","lon":135.7,"lat":-1.7},
{"p":"wai","c":"cyan","lon":130.24,"lat":-0.19},{"p":"wai","c":"cyan","lon":130.89,"lat":-0.02},{"p":"wai","c":"cyan","lon":131.36,"lat":-0.19},{"p":"wai","c":"cyan","lon":131.24,"lat":-0.37},{"p":"wai","c":"cyan","lon":130.71,"lat":-0.45},{"p":"wai","c":"cyan","lon":130.53,"lat":-0.24},
{"p":"sal","c":"white","lon":130.71,"lat":-0.88},{"p":"sal","c":"white","lon":131.06,"lat":-0.97},{"p":"sal","c":"white","lon":131.12,"lat":-1.19},{"p":"sal","c":"white","lon":130.89,"lat":-1.32},{"p":"sal","c":"white","lon":130.77,"lat":-1.1},
{"p":"aru","c":"red","lon":134.11,"lat":-6.71},{"p":"aru","c":"red","lon":134.29,"lat":-5.55},{"p":"aru","c":"red","lon":134.6,"lat":-5.33},{"p":"aru","c":"red","lon":134.88,"lat":-5.89},{"p":"aru","c":"red","lon":134.94,"lat":-6.41},{"p":"aru","c":"red","lon":134.64,"lat":-6.76},{"p":"aru","c":"red","lon":134.29,"lat":-6.89},
{"p":"tan","c":"red","lon":130.83,"lat":-8.31},{"p":"tan","c":"red","lon":130.89,"lat":-7.53},{"p":"tan","c":"red","lon":131.59,"lat":-7.1},{"p":"tan","c":"red","lon":132.0,"lat":-7.02},{"p":"tan","c":"red","lon":131.71,"lat":-7.53},{"p":"tan","c":"red","lon":131.3,"lat":-8.01},
{"p":"kai","c":"red","lon":132.53,"lat":-5.89},{"p":"kai","c":"red","lon":132.76,"lat":-5.46},{"p":"kai","c":"red","lon":132.94,"lat":-5.89},{"p":"kai","c":"red","lon":132.82,"lat":-5.98},
{"p":"jav","c":"red","lon":105.23,"lat":-6.83},{"p":"jav","c":"red","lon":105.38,"lat":-6.67},{"p":"jav","c":"red","lon":105.77,"lat":-6.45},{"p":"jav","c":"red","lon":106.0,"lat":-5.9},{"p":"jav","c":"red","lon":106.69,"lat":-6.06},{"p":"jav","c":"red","lon":107.15,"lat":-5.92},{"p":"jav","c":"red","lon":107.68,"lat":-6.19},{"p":"jav","c":"red","lon":108.37,"lat":-6.24},{"p":"jav","c":"red","lon":108.68,"lat":-6.75},{"p":"jav","c":"red","lon":109.44,"lat":-6.85},{"p":"jav","c":"red","lon":110.36,"lat":-6.96},{"p":"jav","c":"red","lon":110.67,"lat":-6.69},{"p":"jav","c":"red","lon":110.9,"lat":-6.4},{"p":"jav","c":"red","lon":111.13,"lat":-6.67},{"p":"jav","c":"red","lon":111.59,"lat":-6.67},{"p":"jav","c":"red","lon":112.05,"lat":-6.85},{"p":"jav","c":"red","lon":112.58,"lat":-6.88},{"p":"jav","c":"red","lon":112.81,"lat":-7.54},{"p":"jav","c":"red","lon":113.35,"lat":-7.76},{"p":"jav","c":"red","lon":114.04,"lat":-7.65},{"p":"jav","c":"red","lon":114.5,"lat":-7.81},{"p":"jav","c":"red","lon":114.46,"lat":-8.61},{"p":"jav","c":"red","lon":114.57,"lat":-8.77},{"p":"jav","c":"red","lon":113.88,"lat":-8.55},{"p":"jav","c":"red","lon":113.19,"lat":-8.29},{"p":"jav","c":"red","lon":112.66,"lat":-8.45},{"p":"jav","c":"red","lon":111.74,"lat":-8.31},{"p":"jav","c":"red","lon":110.67,"lat":-8.18},{"p":"jav","c":"red","lon":109.9,"lat":-7.81},{"p":"jav","c":"red","lon":108.98,"lat":-7.7},{"p":"jav","c":"red","lon":108.37,"lat":-7.81},{"p":"jav","c":"red","lon":107.76,"lat":-7.65},{"p":"jav","c":"red","lon":107.3,"lat":-7.46},{"p":"jav","c":"red","lon":106.46,"lat":-7.36},{"p":"jav","c":"red","lon":106.46,"lat":-7.07},{"p":"jav","c":"red","lon":106.23,"lat":-6.91},{"p":"jav","c":"red","lon":105.77,"lat":-6.83},
{"p":"mad","c":"red","lon":112.66,"lat":-6.91},{"p":"mad","c":"red","lon":114.04,"lat":-6.85},{"p":"mad","c":"red","lon":114.11,"lat":-6.99},{"p":"mad","c":"red","lon":113.58,"lat":-7.22},{"p":"mad","c":"red","lon":112.73,"lat":-7.2},
{"p":"bal","c":"red","lon":114.5,"lat":-8.1},{"p":"bal","c":"red","lon":115.26,"lat":-7.97},{"p":"bal","c":"red","lon":115.72,"lat":-8.39},{"p":"bal","c":"red","lon":115.26,"lat":-8.66},{"p":"bal","c":"red","lon":115.18,"lat":-8.85},{"p":"bal","c":"red","lon":114.88,"lat":-8.39},
{"p":"lom","c":"red","lon":116.26,"lat":-8.23},{"p":"lom","c":"red","lon":116.72,"lat":-8.26},{"p":"lom","c":"red","lon":116.72,"lat":-8.55},{"p":"lom","c":"red","lon":116.49,"lat":-8.9},{"p":"lom","c":"red","lon":115.87,"lat":-8.82},{"p":"lom","c":"red","lon":116.1,"lat":-8.5},
{"p":"smb","c":"red","lon":116.79,"lat":-8.5},{"p":"smb","c":"red","lon":117.25,"lat":-8.39},{"p":"smb","c":"red","lon":117.56,"lat":-8.34},{"p":"smb","c":"red","lon":117.94,"lat":-8.1},{"p":"smb","c":"red","lon":118.32,"lat":-8.42},{"p":"smb","c":"red","lon":119.01,"lat":-8.29},{"p":"smb","c":"red","lon":119.24,"lat":-8.66},{"p":"smb","c":"red","lon":118.86,"lat":-8.85},{"p":"smb","c":"red","lon":118.32,"lat":-8.71},{"p":"smb","c":"red","lon":118.02,"lat":-8.9},{"p":"smb","c":"red","lon":117.1,"lat":-9.11},{"p":"smb","c":"red","lon":116.79,"lat":-8.98},
{"p":"flo","c":"red","lon":119.78,"lat":-8.55},{"p":"flo","c":"red","lon":120.47,"lat":-8.26},{"p":"flo","c":"red","lon":121.08,"lat":-8.39},{"p":"flo","c":"red","lon":121.54,"lat":-8.58},{"p":"flo","c":"red","lon":122.15,"lat":-8.53},{"p":"flo","c":"red","lon":122.46,"lat":-8.5},{"p":"flo","c":"red","lon":122.92,"lat":-8.39},{"p":"flo","c":"red","lon":123.22,"lat":-8.23},{"p":"flo","c":"red","lon":123.99,"lat":-8.21},{"p":"flo","c":"red","lon":124.45,"lat":-8.13},{"p":"flo","c":"red","lon":125.14,"lat":-8.15},{"p":"flo","c":"red","lon":125.14,"lat":-8.37},{"p":"flo","c":"red","lon":124.14,"lat":-8.5},{"p":"flo","c":"red","lon":123.38,"lat":-8.58},{"p":"flo","c":"red","lon":122.84,"lat":-8.61},{"p":"flo","c":"red","lon":122.15,"lat":-8.77},{"p":"flo","c":"red","lon":121.69,"lat":-8.9},{"p":"flo","c":"red","lon":121.08,"lat":-8.95},{"p":"flo","c":"red","lon":120.31,"lat":-8.82},{"p":"flo","c":"red","lon":119.78,"lat":-8.79},
{"p":"wet","c":"red","lon":125.9,"lat":-7.7},{"p":"wet","c":"red","lon":126.59,"lat":-7.57},{"p":"wet","c":"red","lon":126.9,"lat":-7.7},{"p":"wet","c":"red","lon":126.52,"lat":-7.94},{"p":"wet","c":"red","lon":125.9,"lat":-7.92},
{"p":"tim","c":"red","lon":123.38,"lat":-10.36},{"p":"tim","c":"red","lon":123.61,"lat":-10.04},{"p":"tim","c":"red","lon":123.84,"lat":-9.51},{"p":"tim","c":"red","lon":124.3,"lat":-9.19},{"p":"tim","c":"red","lon":124.77,"lat":-9.06},{"p":"tim","c":"red","lon":125.22,"lat":-8.63},{"p":"tim","c":"red","lon":126.59,"lat":-8.42},{"p":"tim","c":"red","lon":127.05,"lat":-8.31},{"p":"tim","c":"red","lon":127.36,"lat":-8.42},{"p":"tim","c":"red","lon":126.9,"lat":-8.77},{"p":"tim","c":"red","lon":126.44,"lat":-8.92},{"p":"tim","c":"red","lon":125.67,"lat":-9.19},{"p":"tim","c":"red","lon":125.06,"lat":-9.51},{"p":"tim","c":"red","lon":124.6,"lat":-9.99},{"p":"tim","c":"red","lon":123.99,"lat":-10.33},
{"p":"sba","c":"red","lon":119.01,"lat":-9.48},{"p":"sba","c":"red","lon":119.17,"lat":-9.35},{"p":"sba","c":"red","lon":119.93,"lat":-9.32},{"p":"sba","c":"red","lon":120.47,"lat":-9.67},{"p":"sba","c":"red","lon":120.85,"lat":-10.04},{"p":"sba","c":"red","lon":120.47,"lat":-10.33},{"p":"sba","c":"red","lon":120.16,"lat":-10.2},{"p":"sba","c":"red","lon":119.78,"lat":-9.83},{"p":"sba","c":"red","lon":119.17,"lat":-9.75},
{"p":"rot","c":"red","lon":122.69,"lat":-10.84},{"p":"rot","c":"red","lon":123.38,"lat":-10.52},{"p":"rot","c":"red","lon":123.45,"lat":-10.65},{"p":"rot","c":"red","lon":122.92,"lat":-11.02},
{"p":"sav","c":"red","lon":121.54,"lat":-10.65},{"p":"sav","c":"red","lon":121.92,"lat":-10.44},{"p":"sav","c":"red","lon":122.07,"lat":-10.57},{"p":"sav","c":"red","lon":121.77,"lat":-10.65},
{"p":"au1","c":"red","lon":130.07,"lat":-11.81},{"p":"au1","c":"red","lon":130.36,"lat":-11.2},{"p":"au1","c":"red","lon":131.12,"lat":-11.33},{"p":"au1","c":"red","lon":131.3,"lat":-11.2},{"p":"au1","c":"red","lon":131.59,"lat":-11.46},{"p":"au1","c":"red","lon":131.0,"lat":-11.98},{"p":"au1","c":"red","lon":130.48,"lat":-11.77},
{"p":"au2","c":"red","lon":131.83,"lat":-11.33},{"p":"au2","c":"red","lon":132.53,"lat":-11.07},{"p":"au2","c":"red","lon":132.65,"lat":-11.42},{"p":"au2","c":"red","lon":133.0,"lat":-11.42},{"p":"au2","c":"red","lon":133.47,"lat":-11.68},{"p":"au2","c":"red","lon":134.17,"lat":-11.98},{"p":"au2","c":"red","lon":134.17,"lat":-12.4},{"p":"au2","c":"red","lon":132.71,"lat":-12.4},{"p":"au2","c":"red","lon":132.65,"lat":-11.68},{"p":"au2","c":"red","lon":132.18,"lat":-11.59},
{"p":"au3","c":"red","lon":135.64,"lat":-12.4},{"p":"au3","c":"red","lon":136.17,"lat":-11.59},{"p":"au3","c":"red","lon":136.75,"lat":-11.07},{"p":"au3","c":"red","lon":136.64,"lat":-11.48},{"p":"au3","c":"red","lon":136.28,"lat":-12.4},
{"p":"au4","c":"orange","lon":141.92,"lat":-12.4},{"p":"au4","c":"orange","lon":142.21,"lat":-10.99},{"p":"au4","c":"orange","lon":142.56,"lat":-10.73},{"p":"au4","c":"orange","lon":142.86,"lat":-11.25},{"p":"au4","c":"orange","lon":142.98,"lat":-11.98},{"p":"au4","c":"orange","lon":143.33,"lat":-12.4},
{"p":"min","c":"cyan","lon":122.21,"lat":8.2},{"p":"min","c":"cyan","lon":121.96,"lat":7.17},{"p":"min","c":"cyan","lon":122.13,"lat":6.91},{"p":"min","c":"cyan","lon":122.3,"lat":7.41},{"p":"min","c":"cyan","lon":122.63,"lat":7.78},{"p":"min","c":"cyan","lon":122.96,"lat":7.38},{"p":"min","c":"cyan","lon":123.46,"lat":7.38},{"p":"min","c":"cyan","lon":123.55,"lat":7.83},{"p":"min","c":"cyan","lon":124.05,"lat":7.62},{"p":"min","c":"cyan","lon":124.05,"lat":6.85},{"p":"min","c":"cyan","lon":124.05,"lat":6.43},{"p":"min","c":"cyan","lon":124.71,"lat":5.9},{"p":"min","c":"cyan","lon":125.21,"lat":6.08},{"p":"min","c":"cyan","lon":125.38,"lat":5.52},{"p":"min","c":"cyan","lon":125.71,"lat":5.95},{"p":"min","c":"cyan","lon":125.63,"lat":6.43},{"p":"min","c":"cyan","lon":125.38,"lat":6.69},{"p":"min","c":"cyan","lon":125.8,"lat":7.33},{"p":"min","c":"cyan","lon":126.63,"lat":7.33},{"p":"min","c":"cyan","lon":126.46,"lat":8.2},
{"p":"pal","c":"pale","lon":134.46,"lat":8.2},{"p":"pal","c":"pale","lon":134.71,"lat":8.2},{"p":"pal","c":"pale","lon":134.63,"lat":7.38},{"p":"pal","c":"pale","lon":134.3,"lat":7.01},{"p":"pal","c":"pale","lon":134.21,"lat":7.28},
{"p":"bas","c":"cyan","lon":121.8,"lat":6.69},{"p":"bas","c":"cyan","lon":122.13,"lat":6.77},{"p":"bas","c":"cyan","lon":122.35,"lat":6.61},{"p":"bas","c":"cyan","lon":122.05,"lat":6.43},{"p":"bas","c":"cyan","lon":121.85,"lat":6.53},
{"p":"tal","c":"yellow","lon":126.71,"lat":4.57},{"p":"tal","c":"yellow","lon":126.88,"lat":4.57},{"p":"tal","c":"yellow","lon":126.91,"lat":4.25},{"p":"tal","c":"yellow","lon":126.8,"lat":3.74},{"p":"tal","c":"yellow","lon":126.63,"lat":3.98},
{"p":"san","c":"yellow","lon":125.42,"lat":3.74},{"p":"san","c":"yellow","lon":125.63,"lat":3.56},{"p":"san","c":"yellow","lon":125.63,"lat":3.35},{"p":"san","c":"yellow","lon":125.46,"lat":3.56}
],"zones":[
{"p":"z1","c":"orange","lon":95.26,"lat":5.55},{"p":"z1","c":"orange","lon":95.47,"lat":5.62},{"p":"z1","c":"orange","lon":95.79,"lat":5.53},{"p":"z1","c":"orange","lon":96.16,"lat":5.28},{"p":"z1","c":"orange","lon":96.9,"lat":5.26},{"p":"z1","c":"orange","lon":97.18,"lat":5.0},{"p":"z1","c":"orange","lon":96.9,"lat":4.64},{"p":"z1","c":"orange","lon":96.82,"lat":4.27},{"p":"z1","c":"orange","lon":96.65,"lat":3.85},{"p":"z1","c":"orange","lon":96.49,"lat":3.79},{"p":"z1","c":"orange","lon":96.0,"lat":4.21},{"p":"z1","c":"orange","lon":95.51,"lat":4.82},
{"p":"z2","c":"pale","lon":95.63,"lat":4.95},{"p":"z2","c":"pale","lon":95.96,"lat":5.16},{"p":"z2","c":"pale","lon":96.16,"lat":5.0},{"p":"z2","c":"pale","lon":96.0,"lat":4.7},{"p":"z2","c":"pale","lon":95.67,"lat":4.7},
{"p":"z3","c":"orange","lon":97.14,"lat":3.91},{"p":"z3","c":"orange","lon":97.43,"lat":3.85},{"p":"z3","c":"orange","lon":97.43,"lat":3.67},{"p":"z3","c":"orange","lon":97.2,"lat":3.67},
{"p":"z4","c":"pale","lon":98.04,"lat":4.46},{"p":"z4","c":"pale","lon":98.28,"lat":4.34},{"p":"z4","c":"pale","lon":98.24,"lat":4.12},{"p":"z4","c":"pale","lon":98.69,"lat":3.82},{"p":"z4","c":"pale","lon":99.35,"lat":3.51},{"p":"z4","c":"pale","lon":99.75,"lat":3.18},{"p":"z4","c":"pale","lon":100.0,"lat":2.81},{"p":"z4","c":"pale","lon":99.92,"lat":2.6},{"p":"z4","c":"pale","lon":99.35,"lat":2.81},{"p":"z4","c":"pale","lon":99.02,"lat":2.87},{"p":"z4","c":"pale","lon":98.77,"lat":3.18},{"p":"z4","c":"pale","lon":98.37,"lat":3.06},{"p":"z4","c":"pale","lon":97.88,"lat":3.18},{"p":"z4","c":"pale","lon":97.79,"lat":3.42},{"p":"z4","c":"pale","lon":98.12,"lat":3.54},{"p":"z4","c":"pale","lon":97.96,"lat":3.85},{"p":"z4","c":"pale","lon":97.3,"lat":4.09},{"p":"z4","c":"pale","lon":97.14,"lat":4.52},{"p":"z4","c":"pale","lon":97.7,"lat":4.46},
{"p":"z5","c":"white","lon":98.28,"lat":4.06},{"p":"z5","c":"white","lon":98.69,"lat":3.79},{"p":"z5","c":"white","lon":99.35,"lat":3.48},{"p":"z5","c":"white","lon":99.67,"lat":3.15},{"p":"z5","c":"white","lon":99.63,"lat":2.93},{"p":"z5","c":"white","lon":99.26,"lat":3.12},{"p":"z5","c":"white","lon":98.86,"lat":3.36},{"p":"z5","c":"white","lon":98.45,"lat":3.54},
{"p":"z6","c":"orange","lon":97.95,"lat":2.75},{"p":"z6","c":"orange","lon":98.12,"lat":2.84},{"p":"z6","c":"orange","lon":98.53,"lat":2.6},{"p":"z6","c":"orange","lon":99.26,"lat":2.6},{"p":"z6","c":"orange","lon":99.67,"lat":2.26},{"p":"z6","c":"orange","lon":100.24,"lat":1.65},{"p":"z6","c":"orange","lon":100.9,"lat":1.29},{"p":"z6","c":"orange","lon":101.55,"lat":1.17},{"p":"z6","c":"orange","lon":101.96,"lat":0.92},{"p":"z6","c":"orange","lon":102.2,"lat":0.68},{"p":"z6","c":"orange","lon":102.77,"lat":0.83},{"p":"z6","c":"orange","lon":103.26,"lat":0.55},{"p":"z6","c":"orange","lon":103.75,"lat":0.31},{"p":"z6","c":"orange","lon":103.82,"lat":0},{"p":"z6","c":"orange","lon":103.39,"lat":-0.21},{"p":"z6","c":"orange","lon":103.39,"lat":-0.64},{"p":"z6","c":"orange","lon":103.79,"lat":-0.93},{"p":"z6","c":"orange","lon":104.41,"lat":-1.01},{"p":"z6","c":"orange","lon":104.45,"lat":-1.25},{"p":"z6","c":"orange","lon":103.84,"lat":-1.09},{"p":"z6","c":"orange","lon":103.26,"lat":-0.97},{"p":"z6","c":"orange","lon":102.61,"lat":-0.64},{"p":"z6","c":"orange","lon":101.63,"lat":-0.6},{"p":"z6","c":"orange","lon":100.9,"lat":-1.09},{"p":"z6","c":"orange","lon":100.98,"lat":-1.62},{"p":"z6","c":"orange","lon":101.39,"lat":-2.27},{"p":"z6","c":"orange","lon":101.88,"lat":-3.0},{"p":"z6","c":"orange","lon":102.28,"lat":-3.65},{"p":"z6","c":"orange","lon":102.49,"lat":-4.06},{"p":"z6","c":"orange","lon":102.28,"lat":-3.94},{"p":"z6","c":"orange","lon":101.63,"lat":-3.29},{"p":"z6","c":"orange","lon":101.22,"lat":-2.64},{"p":"z6","c":"orange","lon":100.81,"lat":-2.03},{"p":"z6","c":"orange","lon":100.41,"lat":-1.17},{"p":"z6","c":"orange","lon":100.33,"lat":-0.81},{"p":"z6","c":"orange","lon":99.88,"lat":-0.32},{"p":"z6","c":"orange","lon":99.91,"lat":0},{"p":"z6","c":"orange","lon":99.67,"lat":0.25},{"p":"z6","c":"orange","lon":99.18,"lat":0.74},{"p":"z6","c":"orange","lon":98.94,"lat":1.41},{"p":"z6","c":"orange","lon":98.61,"lat":1.96},{"p":"z6","c":"orange","lon":97.96,"lat":2.44},
{"p":"z7","c":"red","lon":101.63,"lat":-0.6},{"p":"z7","c":"red","lon":102.61,"lat":-0.64},{"p":"z7","c":"red","lon":103.26,"lat":-0.97},{"p":"z7","c":"red","lon":103.84,"lat":-1.09},{"p":"z7","c":"red","lon":104.41,"lat":-1.25},{"p":"z7","c":"red","lon":104.57,"lat":-1.78},{"p":"z7","c":"red","lon":104.9,"lat":-2.07},{"p":"z7","c":"red","lon":104.9,"lat":-2.27},{"p":"z7","c":"red","lon":105.63,"lat":-2.39},{"p":"z7","c":"red","lon":105.84,"lat":-2.84},{"p":"z7","c":"red","lon":106.08,"lat":-3.12},{"p":"z7","c":"red","lon":105.88,"lat":-3.57},{"p":"z7","c":"red","lon":105.92,"lat":-4.47},{"p":"z7","c":"red","lon":105.81,"lat":-5.85},{"p":"z7","c":"red","lon":105.55,"lat":-5.6},{"p":"z7","c":"red","lon":105.3,"lat":-5.46},{"p":"z7","c":"red","lon":105.14,"lat":-5.73},{"p":"z7","c":"red","lon":104.57,"lat":-5.52},{"p":"z7","c":"red","lon":104.65,"lat":-5.93},{"p":"z7","c":"red","lon":104.33,"lat":-5.6},{"p":"z7","c":"red","lon":103.75,"lat":-4.95},{"p":"z7","c":"red","lon":102.94,"lat":-4.51},{"p":"z7","c":"red","lon":102.49,"lat":-4.06},{"p":"z7","c":"red","lon":101.88,"lat":-3.0},{"p":"z7","c":"red","lon":101.39,"lat":-2.27},{"p":"z7","c":"red","lon":100.98,"lat":-1.62},{"p":"z7","c":"red","lon":100.9,"lat":-1.09},
{"p":"z8","c":"orange","lon":103.18,"lat":-4.59},{"p":"z8","c":"orange","lon":103.39,"lat":-4.59},{"p":"z8","c":"orange","lon":103.55,"lat":-4.83},{"p":"z8","c":"orange","lon":103.31,"lat":-4.71},
{"p":"z9","c":"red","lon":100.16,"lat":0.19},{"p":"z9","c":"red","lon":100.49,"lat":0.1},{"p":"z9","c":"red","lon":100.98,"lat":-0.36},{"p":"z9","c":"red","lon":101.06,"lat":-0.72},{"p":"z9","c":"red","lon":100.6,"lat":-0.95},{"p":"z9","c":"red","lon":100.2,"lat":-0.4},
{"p":"z10","c":"red","lon":99.22,"lat":1.59},{"p":"z10","c":"red","lon":99.43,"lat":1.78},{"p":"z10","c":"red","lon":99.63,"lat":1.59},{"p":"z10","c":"red","lon":99.55,"lat":1.22},{"p":"z10","c":"red","lon":99.26,"lat":1.41},
{"p":"z11","c":"red","lon":100.65,"lat":0.65},{"p":"z11","c":"red","lon":100.75,"lat":0.77},{"p":"z11","c":"red","lon":100.87,"lat":0.65},{"p":"z11","c":"red","lon":100.75,"lat":0.52},
{"p":"z12","c":"pale","lon":100.88,"lat":-2.23},{"p":"z12","c":"pale","lon":100.98,"lat":-2.05},{"p":"z12","c":"pale","lon":101.13,"lat":-2.2},{"p":"z12","c":"pale","lon":101.02,"lat":-2.39},
{"p":"z13","c":"orange","lon":101.18,"lat":-1.7},{"p":"z13","c":"orange","lon":101.45,"lat":-1.74},{"p":"z13","c":"orange","lon":101.63,"lat":-2.31},{"p":"z13","c":"orange","lon":101.47,"lat":-2.19},{"p":"z13","c":"orange","lon":101.31,"lat":-1.9},
{"p":"m1","c":"pale","lon":100.0,"lat":7.51},{"p":"m1","c":"pale","lon":100.33,"lat":7.14},{"p":"m1","c":"pale","lon":100.73,"lat":6.99},{"p":"m1","c":"pale","lon":101.06,"lat":6.84},{"p":"m1","c":"pale","lon":101.47,"lat":6.59},{"p":"m1","c":"pale","lon":101.63,"lat":6.29},{"p":"m1","c":"pale","lon":101.84,"lat":6.04},{"p":"m1","c":"pale","lon":102.0,"lat":5.56},{"p":"m1","c":"pale","lon":102.0,"lat":5.07},{"p":"m1","c":"pale","lon":102.16,"lat":4.7},{"p":"m1","c":"pale","lon":102.24,"lat":4.52},{"p":"m1","c":"pale","lon":101.63,"lat":4.46},{"p":"m1","c":"pale","lon":101.63,"lat":3.79},{"p":"m1","c":"pale","lon":101.39,"lat":4.21},{"p":"m1","c":"pale","lon":101.14,"lat":4.4},{"p":"m1","c":"pale","lon":100.9,"lat":4.64},{"p":"m1","c":"pale","lon":100.61,"lat":4.89},{"p":"m1","c":"pale","lon":100.41,"lat":5.0},{"p":"m1","c":"pale","lon":100.37,"lat":5.31},{"p":"m1","c":"pale","lon":100.33,"lat":6.04},{"p":"m1","c":"pale","lon":100.04,"lat":6.59},{"p":"m1","c":"pale","lon":99.75,"lat":6.84},{"p":"m1","c":"pale","lon":99.67,"lat":7.14},
{"p":"m2","c":"white","lon":99.79,"lat":7.39},{"p":"m2","c":"white","lon":99.7,"lat":8.1},{"p":"m2","c":"white","lon":100.05,"lat":8.1},{"p":"m2","c":"white","lon":100.33,"lat":6.84},{"p":"m2","c":"white","lon":100.9,"lat":6.47},{"p":"m2","c":"white","lon":100.9,"lat":6.17},{"p":"m2","c":"white","lon":101.14,"lat":5.74},{"p":"m2","c":"white","lon":101.06,"lat":5.37},{"p":"m2","c":"white","lon":100.82,"lat":5.13},{"p":"m2","c":"white","lon":100.45,"lat":5.31},{"p":"m2","c":"white","lon":100.37,"lat":6.04},{"p":"m2","c":"white","lon":100.08,"lat":6.59},{"p":"m2","c":"white","lon":99.75,"lat":6.84},
{"p":"m3","c":"cyan","lon":99.18,"lat":8.1},{"p":"m3","c":"cyan","lon":99.55,"lat":8.1},{"p":"m3","c":"cyan","lon":99.84,"lat":7.51},{"p":"m3","c":"cyan","lon":99.67,"lat":7.2},{"p":"m3","c":"cyan","lon":100.16,"lat":6.71},{"p":"m3","c":"cyan","lon":100.57,"lat":6.53},{"p":"m3","c":"cyan","lon":100.73,"lat":5.86},{"p":"m3","c":"cyan","lon":100.57,"lat":5.56},{"p":"m3","c":"cyan","lon":100.37,"lat":5.62},{"p":"m3","c":"cyan","lon":100.33,"lat":6.04},{"p":"m3","c":"cyan","lon":100.04,"lat":6.59},{"p":"m3","c":"cyan","lon":99.75,"lat":6.84},{"p":"m3","c":"cyan","lon":99.67,"lat":7.14},{"p":"m3","c":"cyan","lon":99.35,"lat":7.39},
{"p":"m4","c":"blue","lon":99.02,"lat":8.1},{"p":"m4","c":"blue","lon":99.26,"lat":7.81},{"p":"m4","c":"blue","lon":99.67,"lat":7.6},{"p":"m4","c":"blue","lon":99.67,"lat":7.39},{"p":"m4","c":"blue","lon":99.43,"lat":7.23},{"p":"m4","c":"blue","lon":99.18,"lat":7.45},{"p":"m4","c":"blue","lon":99.02,"lat":7.63},
{"p":"m5","c":"blue","lon":100.4,"lat":5.95},{"p":"m5","c":"blue","lon":100.57,"lat":5.95},{"p":"m5","c":"blue","lon":100.57,"lat":5.77},{"p":"m5","c":"blue","lon":100.4,"lat":5.77},
{"p":"m6","c":"orange","lon":103.43,"lat":3.67},{"p":"m6","c":"orange","lon":103.51,"lat":3.12},{"p":"m6","c":"orange","lon":103.75,"lat":2.66},{"p":"m6","c":"orange","lon":104.08,"lat":2.2},{"p":"m6","c":"orange","lon":104.28,"lat":1.59},{"p":"m6","c":"orange","lon":104.28,"lat":1.38},{"p":"m6","c":"orange","lon":103.84,"lat":1.35},{"p":"m6","c":"orange","lon":103.47,"lat":1.47},{"p":"m6","c":"orange","lon":103.79,"lat":1.65},{"p":"m6","c":"orange","lon":103.75,"lat":1.96},{"p":"m6","c":"orange","lon":103.1,"lat":2.26},{"p":"m6","c":"orange","lon":102.69,"lat":2.63},{"p":"m6","c":"orange","lon":102.77,"lat":2.99},{"p":"m6","c":"orange","lon":103.02,"lat":3.36},
{"p":"m7","c":"pale","lon":101.92,"lat":2.57},{"p":"m7","c":"pale","lon":102.61,"lat":2.26},{"p":"m7","c":"pale","lon":103.1,"lat":1.72},{"p":"m7","c":"pale","lon":103.47,"lat":1.35},{"p":"m7","c":"pale","lon":102.77,"lat":1.87},{"p":"m7","c":"pale","lon":102.2,"lat":2.26},
{"p":"m8","c":"orange","lon":103.3,"lat":4.34},{"p":"m8","c":"orange","lon":103.47,"lat":4.4},{"p":"m8","c":"orange","lon":103.43,"lat":3.91},{"p":"m8","c":"orange","lon":103.3,"lat":3.88},
{"p":"b1","c":"red","lon":112.96,"lat":0.58},{"p":"b1","c":"red","lon":114.02,"lat":0.74},{"p":"b1","c":"red","lon":114.19,"lat":1.31},{"p":"b1","c":"red","lon":115.0,"lat":1.23},{"p":"b1","c":"red","lon":115.57,"lat":1.31},{"p":"b1","c":"red","lon":115.7,"lat":0.74},{"p":"b1","c":"red","lon":115.9,"lat":0.46},{"p":"b1","c":"red","lon":117.21,"lat":0.78},{"p":"b1","c":"red","lon":116.96,"lat":-0.16},{"p":"b1","c":"red","lon":116.64,"lat":-0.97},{"p":"b1","c":"red","lon":116.39,"lat":-1.62},{"p":"b1","c":"red","lon":116.47,"lat":-1.74},{"p":"b1","c":"red","lon":116.6,"lat":-2.27},{"p":"b1","c":"red","lon":116.15,"lat":-3.0},{"p":"b1","c":"red","lon":115.98,"lat":-3.53},{"p":"b1","c":"red","lon":114.68,"lat":-4.14},{"p":"b1","c":"red","lon":114.55,"lat":-3.41},{"p":"b1","c":"red","lon":114.19,"lat":-3.29},{"p":"b1","c":"red","lon":113.61,"lat":-3.41},{"p":"b1","c":"red","lon":113.08,"lat":-2.96},{"p":"b1","c":"red","lon":112.55,"lat":-3.41},{"p":"b1","c":"red","lon":111.9,"lat":-3.57},{"p":"b1","c":"red","lon":111.78,"lat":-2.84},{"p":"b1","c":"red","lon":111.41,"lat":-2.27},{"p":"b1","c":"red","lon":111.62,"lat":-2.03},{"p":"b1","c":"red","lon":111.08,"lat":-1.9},{"p":"b1","c":"red","lon":110.72,"lat":-1.54},{"p":"b1","c":"red","lon":110.51,"lat":-0.97},{"p":"b1","c":"red","lon":110.35,"lat":-0.77},{"p":"b1","c":"red","lon":110.84,"lat":-0.48},{"p":"b1","c":"red","lon":111.25,"lat":-0.24},{"p":"b1","c":"red","lon":111.74,"lat":-0.48},{"p":"b1","c":"red","lon":112.23,"lat":-0.07},{"p":"b1","c":"red","lon":111.9,"lat":0.25},{"p":"b1","c":"red","lon":112.55,"lat":0.29},
{"p":"b2","c":"red","lon":109.74,"lat":1.06},{"p":"b2","c":"red","lon":110.1,"lat":1.31},{"p":"b2","c":"red","lon":110.6,"lat":1.23},{"p":"b2","c":"red","lon":111.25,"lat":1.27},{"p":"b2","c":"red","lon":111.29,"lat":1.15},{"p":"b2","c":"red","lon":110.84,"lat":0.94},{"p":"b2","c":"red","lon":110.19,"lat":0.74},{"p":"b2","c":"red","lon":109.82,"lat":0.86},
{"p":"b3","c":"red","lon":111.57,"lat":1.67},{"p":"b3","c":"red","lon":112.31,"lat":1.88},{"p":"b3","c":"red","lon":112.39,"lat":1.71},{"p":"b3","c":"red","lon":111.98,"lat":1.47},{"p":"b3","c":"red","lon":111.66,"lat":1.51},
{"p":"b4","c":"red","lon":109.41,"lat":0.94},{"p":"b4","c":"red","lon":109.57,"lat":0.49},{"p":"b4","c":"red","lon":109.41,"lat":0.6},
{"p":"b5","c":"yellow","lon":113.45,"lat":3.67},{"p":"b5","c":"yellow","lon":113.94,"lat":3.83},{"p":"b5","c":"yellow","lon":114.43,"lat":3.75},{"p":"b5","c":"yellow","lon":114.55,"lat":3.5},{"p":"b5","c":"yellow","lon":114.51,"lat":3.34},{"p":"b5","c":"yellow","lon":114.72,"lat":2.93},{"p":"b5","c":"yellow","lon":114.43,"lat":2.65},{"p":"b5","c":"yellow","lon":114.68,"lat":2.28},{"p":"b5","c":"yellow","lon":114.76,"lat":1.8},{"p":"b5","c":"yellow","lon":114.92,"lat":1.63},{"p":"b5","c":"yellow","lon":115.41,"lat":1.92},{"p":"b5","c":"yellow","lon":115.98,"lat":1.92},{"p":"b5","c":"yellow","lon":116.23,"lat":1.71},{"p":"b5","c":"yellow","lon":116.96,"lat":2.12},{"p":"b5","c":"yellow","lon":117.53,"lat":2.65},{"p":"b5","c":"yellow","lon":117.7,"lat":2.73},{"p":"b5","c":"yellow","lon":117.41,"lat":3.18},{"p":"b5","c":"yellow","lon":117.12,"lat":3.58},{"p":"b5","c":"yellow","lon":117.53,"lat":3.99},{"p":"b5","c":"yellow","lon":117.7,"lat":4.32},{"p":"b5","c":"yellow","lon":118.19,"lat":4.24},{"p":"b5","c":"yellow","lon":118.76,"lat":4.44},{"p":"b5","c":"yellow","lon":118.51,"lat":4.64},{"p":"b5","c":"yellow","lon":118.23,"lat":4.93},{"p":"b5","c":"yellow","lon":118.92,"lat":5.0},{"p":"b5","c":"yellow","lon":119.25,"lat":5.21},{"p":"b5","c":"yellow","lon":119.25,"lat":5.41},{"p":"b5","c":"yellow","lon":118.64,"lat":5.57},{"p":"b5","c":"yellow","lon":118.15,"lat":5.82},{"p":"b5","c":"yellow","lon":118.07,"lat":6.06},{"p":"b5","c":"yellow","lon":117.74,"lat":6.1},{"p":"b5","c":"yellow","lon":117.74,"lat":6.43},{"p":"b5","c":"yellow","lon":117.37,"lat":6.43},{"p":"b5","c":"yellow","lon":116.64,"lat":6.43},{"p":"b5","c":"yellow","lon":116.6,"lat":6.51},{"p":"b5","c":"yellow","lon":116.23,"lat":6.19},{"p":"b5","c":"yellow","lon":115.9,"lat":5.7},{"p":"b5","c":"yellow","lon":115.45,"lat":5.41},{"p":"b5","c":"yellow","lon":115.53,"lat":5.13},{"p":"b5","c":"yellow","lon":115.13,"lat":4.84},{"p":"b5","c":"yellow","lon":115.04,"lat":5.0},{"p":"b5","c":"yellow","lon":114.43,"lat":4.64},{"p":"b5","c":"yellow","lon":114.02,"lat":4.6},{"p":"b5","c":"yellow","lon":113.98,"lat":4.4},{"p":"b5","c":"yellow","lon":113.53,"lat":3.83},
{"p":"b6","c":"pale","lon":115.49,"lat":4.4},{"p":"b6","c":"pale","lon":115.57,"lat":4.97},{"p":"b6","c":"pale","lon":115.53,"lat":5.29},{"p":"b6","c":"pale","lon":115.9,"lat":5.62},{"p":"b6","c":"pale","lon":116.23,"lat":6.1},{"p":"b6","c":"pale","lon":116.64,"lat":6.31},{"p":"b6","c":"pale","lon":117.04,"lat":6.1},{"p":"b6","c":"pale","lon":117.45,"lat":5.54},{"p":"b6","c":"pale","lon":117.49,"lat":5.13},{"p":"b6","c":"pale","lon":117.86,"lat":4.84},{"p":"b6","c":"pale","lon":118.51,"lat":4.52},{"p":"b6","c":"pale","lon":118.19,"lat":4.32},{"p":"b6","c":"pale","lon":117.7,"lat":4.32},{"p":"b6","c":"pale","lon":117.37,"lat":4.48},{"p":"b6","c":"pale","lon":116.39,"lat":4.24},{"p":"b6","c":"pale","lon":115.9,"lat":4.24},
{"p":"b7","c":"pale","lon":115.21,"lat":2.32},{"p":"b7","c":"pale","lon":115.08,"lat":2.97},{"p":"b7","c":"pale","lon":115.49,"lat":3.5},{"p":"b7","c":"pale","lon":115.57,"lat":3.91},{"p":"b7","c":"pale","lon":115.9,"lat":4.15},{"p":"b7","c":"pale","lon":117.37,"lat":4.24},{"p":"b7","c":"pale","lon":117.53,"lat":3.99},{"p":"b7","c":"pale","lon":117.12,"lat":3.58},{"p":"b7","c":"pale","lon":117.21,"lat":2.69},{"p":"b7","c":"pale","lon":116.47,"lat":2.45},{"p":"b7","c":"pale","lon":115.9,"lat":2.37},
{"p":"b8","c":"yellow","lon":115.9,"lat":4.15},{"p":"b8","c":"yellow","lon":117.37,"lat":4.48},{"p":"b8","c":"yellow","lon":117.37,"lat":4.31},{"p":"b8","c":"yellow","lon":116.47,"lat":4.07},{"p":"b8","c":"yellow","lon":115.99,"lat":3.91},
{"p":"b9","c":"white","lon":116.15,"lat":5.94},{"p":"b9","c":"white","lon":116.39,"lat":6.1},{"p":"b9","c":"white","lon":116.88,"lat":5.78},{"p":"b9","c":"white","lon":117.0,"lat":4.97},{"p":"b9","c":"white","lon":116.8,"lat":4.64},{"p":"b9","c":"white","lon":116.64,"lat":4.89},{"p":"b9","c":"white","lon":116.55,"lat":5.46},{"p":"b9","c":"white","lon":116.15,"lat":5.78},
{"p":"b10","c":"orange","lon":116.6,"lat":6.43},{"p":"b10","c":"orange","lon":116.76,"lat":6.96},{"p":"b10","c":"orange","lon":116.92,"lat":6.59},{"p":"b10","c":"orange","lon":117.13,"lat":6.96},{"p":"b10","c":"orange","lon":117.37,"lat":6.63},{"p":"b10","c":"orange","lon":117.25,"lat":6.39},
{"p":"b11","c":"yellow","lon":108.96,"lat":1.14},{"p":"b11","c":"yellow","lon":109.17,"lat":1.31},{"p":"b11","c":"yellow","lon":109.08,"lat":0.86},{"p":"b11","c":"yellow","lon":108.92,"lat":0.78},
{"p":"b12","c":"pale","lon":109.25,"lat":0},{"p":"b12","c":"pale","lon":109.49,"lat":-0.16},{"p":"b12","c":"pale","lon":109.45,"lat":-0.81},{"p":"b12","c":"pale","lon":109.29,"lat":-0.64},
{"p":"c1","c":"orange","lon":121.48,"lat":0.76},{"p":"c1","c":"orange","lon":121.89,"lat":0.98},{"p":"c1","c":"orange","lon":122.55,"lat":0.97},{"p":"c1","c":"orange","lon":122.95,"lat":0.91},{"p":"c1","c":"orange","lon":123.93,"lat":0.88},{"p":"c1","c":"orange","lon":124.34,"lat":1.07},{"p":"c1","c":"orange","lon":124.75,"lat":1.52},{"p":"c1","c":"orange","lon":124.99,"lat":1.71},{"p":"c1","c":"orange","lon":125.16,"lat":1.71},{"p":"c1","c":"orange","lon":125.24,"lat":1.46},{"p":"c1","c":"orange","lon":125.03,"lat":1.16},{"p":"c1","c":"orange","lon":124.67,"lat":0.79},{"p":"c1","c":"orange","lon":124.42,"lat":0.76},{"p":"c1","c":"orange","lon":123.69,"lat":0.61},{"p":"c1","c":"orange","lon":123.2,"lat":0.76},{"p":"c1","c":"orange","lon":122.71,"lat":0.67},{"p":"c1","c":"orange","lon":122.22,"lat":0.67},{"p":"c1","c":"orange","lon":121.97,"lat":0.55},{"p":"c1","c":"orange","lon":121.48,"lat":0.64},
{"p":"c2","c":"red","lon":124.5,"lat":1.13},{"p":"c2","c":"red","lon":124.75,"lat":1.46},{"p":"c2","c":"red","lon":125.12,"lat":1.68},{"p":"c2","c":"red","lon":125.2,"lat":1.46},{"p":"c2","c":"red","lon":124.91,"lat":1.28},{"p":"c2","c":"red","lon":124.67,"lat":1.1},
{"p":"c3","c":"yellow","lon":120.67,"lat":0.94},{"p":"c3","c":"yellow","lon":120.87,"lat":1.31},{"p":"c3","c":"yellow","lon":121.48,"lat":1.25},{"p":"c3","c":"yellow","lon":121.53,"lat":0.85},{"p":"c3","c":"yellow","lon":121.24,"lat":0.61},{"p":"c3","c":"yellow","lon":120.67,"lat":0.67},
{"p":"c4","c":"yellow","lon":123.2,"lat":0.61},{"p":"c4","c":"yellow","lon":124.42,"lat":0.76},{"p":"c4","c":"yellow","lon":124.59,"lat":0.49},{"p":"c4","c":"yellow","lon":124.02,"lat":0.4},{"p":"c4","c":"yellow","lon":123.65,"lat":0.27},{"p":"c4","c":"yellow","lon":123.24,"lat":0.33},
{"p":"c5","c":"yellow","lon":121.97,"lat":0.97},{"p":"c5","c":"yellow","lon":122.14,"lat":0.97},{"p":"c5","c":"yellow","lon":122.22,"lat":0.55},{"p":"c5","c":"yellow","lon":122.06,"lat":0.52},
{"p":"c6","c":"orange","lon":119.65,"lat":-0.79},{"p":"c6","c":"orange","lon":119.77,"lat":-0.67},{"p":"c6","c":"orange","lon":119.81,"lat":-1.22},{"p":"c6","c":"orange","lon":119.61,"lat":-1.34},{"p":"c6","c":"orange","lon":119.48,"lat":-1.89},{"p":"c6","c":"orange","lon":119.32,"lat":-1.89},{"p":"c6","c":"orange","lon":119.32,"lat":-1.22},
{"p":"c7","c":"yellow","lon":119.61,"lat":-1.4},{"p":"c7","c":"yellow","lon":120.1,"lat":-1.59},{"p":"c7","c":"yellow","lon":120.59,"lat":-1.53},{"p":"c7","c":"yellow","lon":120.91,"lat":-1.71},{"p":"c7","c":"yellow","lon":121.28,"lat":-1.59},{"p":"c7","c":"yellow","lon":121.32,"lat":-1.74},{"p":"c7","c":"yellow","lon":121.73,"lat":-1.95},{"p":"c7","c":"yellow","lon":121.93,"lat":-2.32},{"p":"c7","c":"yellow","lon":122.06,"lat":-2.62},{"p":"c7","c":"yellow","lon":121.73,"lat":-2.68},{"p":"c7","c":"yellow","lon":121.48,"lat":-2.32},{"p":"c7","c":"yellow","lon":121.16,"lat":-1.89},{"p":"c7","c":"yellow","lon":120.83,"lat":-1.83},{"p":"c7","c":"yellow","lon":120.67,"lat":-2.07},{"p":"c7","c":"yellow","lon":120.26,"lat":-2.14},{"p":"c7","c":"yellow","lon":120.1,"lat":-2.38},{"p":"c7","c":"yellow","lon":119.85,"lat":-2.2},{"p":"c7","c":"yellow","lon":119.44,"lat":-2.32},{"p":"c7","c":"yellow","lon":119.48,"lat":-1.95},
{"p":"c8","c":"orange","lon":119.32,"lat":-1.98},{"p":"c8","c":"orange","lon":119.48,"lat":-2.32},{"p":"c8","c":"orange","lon":119.85,"lat":-2.2},{"p":"c8","c":"orange","lon":120.1,"lat":-2.38},{"p":"c8","c":"orange","lon":120.26,"lat":-2.14},{"p":"c8","c":"orange","lon":120.67,"lat":-2.07},{"p":"c8","c":"orange","lon":120.83,"lat":-1.83},{"p":"c8","c":"orange","lon":121.16,"lat":-1.89},{"p":"c8","c":"orange","lon":121.48,"lat":-2.38},{"p":"c8","c":"orange","lon":121.73,"lat":-2.68},{"p":"c8","c":"orange","lon":122.1,"lat":-2.75},{"p":"c8","c":"orange","lon":122.18,"lat":-3.29},{"p":"c8","c":"orange","lon":122.26,"lat":-3.54},{"p":"c8","c":"orange","lon":121.97,"lat":-3.66},{"p":"c8","c":"orange","lon":121.89,"lat":-3.81},{"p":"c8","c":"orange","lon":122.46,"lat":-3.78},{"p":"c8","c":"orange","lon":122.67,"lat":-4.15},{"p":"c8","c":"orange","lon":122.22,"lat":-4.39},{"p":"c8","c":"orange","lon":122.1,"lat":-4.57},{"p":"c8","c":"orange","lon":121.97,"lat":-4.57},{"p":"c8","c":"orange","lon":121.81,"lat":-4.27},{"p":"c8","c":"orange","lon":121.57,"lat":-4.21},{"p":"c8","c":"orange","lon":121.24,"lat":-3.93},{"p":"c8","c":"orange","lon":120.87,"lat":-3.45},{"p":"c8","c":"orange","lon":121.08,"lat":-3.17},{"p":"c8","c":"orange","lon":121.08,"lat":-2.71},{"p":"c8","c":"orange","lon":120.79,"lat":-2.62},{"p":"c8","c":"orange","lon":120.26,"lat":-2.96},{"p":"c8","c":"orange","lon":120.46,"lat":-3.29},{"p":"c8","c":"orange","lon":120.42,"lat":-4.03},{"p":"c8","c":"orange","lon":120.1,"lat":-4.09},{"p":"c8","c":"orange","lon":119.61,"lat":-4.09},{"p":"c8","c":"orange","lon":119.48,"lat":-3.48},{"p":"c8","c":"orange","lon":118.95,"lat":-3.51},{"p":"c8","c":"orange","lon":118.79,"lat":-3.11},{"p":"c8","c":"orange","lon":118.79,"lat":-2.62},{"p":"c8","c":"orange","lon":119.08,"lat":-2.5},
{"p":"c9","c":"yellow","lon":119.24,"lat":-2.62},{"p":"c9","c":"yellow","lon":119.5,"lat":-2.56},{"p":"c9","c":"yellow","lon":119.48,"lat":-2.81},{"p":"c9","c":"yellow","lon":119.24,"lat":-2.87},
{"p":"c10","c":"yellow","lon":120.02,"lat":-3.26},{"p":"c10","c":"yellow","lon":120.18,"lat":-3.29},{"p":"c10","c":"yellow","lon":120.42,"lat":-3.78},{"p":"c10","c":"yellow","lon":120.34,"lat":-3.96},{"p":"c10","c":"yellow","lon":120.1,"lat":-3.72},
{"p":"c11","c":"red","lon":119.48,"lat":-3.48},{"p":"c11","c":"red","lon":119.61,"lat":-3.72},{"p":"c11","c":"red","lon":119.89,"lat":-4.03},{"p":"c11","c":"red","lon":119.93,"lat":-5.24},{"p":"c11","c":"red","lon":119.85,"lat":-5.64},{"p":"c11","c":"red","lon":119.4,"lat":-5.37},{"p":"c11","c":"red","lon":119.61,"lat":-4.09},
{"p":"c12","c":"orange","lon":119.89,"lat":-4.03},{"p":"c12","c":"orange","lon":120.42,"lat":-4.03},{"p":"c12","c":"orange","lon":120.1,"lat":-4.27},{"p":"c12","c":"orange","lon":119.97,"lat":-5.24},{"p":"c12","c":"orange","lon":119.93,"lat":-5.49},
{"p":"c13","c":"yellow","lon":120.1,"lat":-4.27},{"p":"c13","c":"yellow","lon":120.38,"lat":-4.09},{"p":"c13","c":"yellow","lon":120.46,"lat":-5.55},{"p":"c13","c":"yellow","lon":120.02,"lat":-5.49},{"p":"c13","c":"yellow","lon":120.02,"lat":-5.06},
{"p":"c14","c":"pale","lon":120.18,"lat":-4.45},{"p":"c14","c":"pale","lon":120.38,"lat":-4.39},{"p":"c14","c":"pale","lon":120.38,"lat":-5.37},{"p":"c14","c":"pale","lon":120.18,"lat":-5.18},
{"p":"c15","c":"yellow","lon":121.57,"lat":-4.27},{"p":"c15","c":"yellow","lon":121.81,"lat":-4.27},{"p":"c15","c":"yellow","lon":121.93,"lat":-4.51},{"p":"c15","c":"yellow","lon":121.81,"lat":-4.76},{"p":"c15","c":"yellow","lon":121.65,"lat":-4.79},{"p":"c15","c":"yellow","lon":121.48,"lat":-4.54},
{"p":"c16","c":"red","lon":122.63,"lat":-5.34},{"p":"c16","c":"red","lon":122.87,"lat":-5.4},{"p":"c16","c":"red","lon":122.91,"lat":-5.61},{"p":"c16","c":"red","lon":122.63,"lat":-5.67},{"p":"c16","c":"red","lon":122.5,"lat":-5.65},
{"p":"c17","c":"yellow","lon":122.87,"lat":-4.48},{"p":"c17","c":"yellow","lon":123.08,"lat":-4.39},{"p":"c17","c":"yellow","lon":123.2,"lat":-4.57},{"p":"c17","c":"yellow","lon":122.95,"lat":-4.82},
{"p":"c18","c":"orange","lon":126.55,"lat":-3.17},{"p":"c18","c":"orange","lon":126.95,"lat":-3.17},{"p":"c18","c":"orange","lon":127.08,"lat":-3.42},{"p":"c18","c":"orange","lon":126.71,"lat":-3.54},{"p":"c18","c":"orange","lon":126.46,"lat":-3.42},
{"p":"c19","c":"orange","lon":129.42,"lat":-2.78},{"p":"c19","c":"orange","lon":130.42,"lat":-2.96},{"p":"c19","c":"orange","lon":130.89,"lat":-3.65},{"p":"c19","c":"orange","lon":130.77,"lat":-3.82},{"p":"c19","c":"orange","lon":130.3,"lat":-3.3},{"p":"c19","c":"orange","lon":129.83,"lat":-3.04},
{"p":"c20","c":"cyan","lon":129.18,"lat":-3.04},{"p":"c20","c":"cyan","lon":129.65,"lat":-3.04},{"p":"c20","c":"cyan","lon":129.54,"lat":-3.3},{"p":"c20","c":"cyan","lon":129.3,"lat":-3.26},
{"p":"c21","c":"cyan","lon":127.95,"lat":-3.69},{"p":"c21","c":"cyan","lon":128.54,"lat":-3.47},{"p":"c21","c":"cyan","lon":128.77,"lat":-3.6},{"p":"c21","c":"cyan","lon":128.01,"lat":-3.78},
{"p":"p1","c":"cyan","lon":131.47,"lat":-0.84},{"p":"p1","c":"cyan","lon":131.94,"lat":-0.8},{"p":"p1","c":"cyan","lon":132.29,"lat":-0.37},{"p":"p1","c":"cyan","lon":133.0,"lat":-0.5},{"p":"p1","c":"cyan","lon":133.41,"lat":-0.75},{"p":"p1","c":"cyan","lon":134.05,"lat":-0.84},{"p":"p1","c":"cyan","lon":134.23,"lat":-1.57},{"p":"p1","c":"cyan","lon":133.94,"lat":-1.49},{"p":"p1","c":"cyan","lon":133.12,"lat":-1.49},{"p":"p1","c":"cyan","lon":132.29,"lat":-1.49},{"p":"p1","c":"cyan","lon":131.83,"lat":-1.32},{"p":"p1","c":"cyan","lon":131.59,"lat":-1.06},
{"p":"p2","c":"blue","lon":131.88,"lat":-0.8},{"p":"p2","c":"blue","lon":132.18,"lat":-0.45},{"p":"p2","c":"blue","lon":132.53,"lat":-0.37},{"p":"p2","c":"blue","lon":133.0,"lat":-0.54},{"p":"p2","c":"blue","lon":133.41,"lat":-0.8},{"p":"p2","c":"blue","lon":133.82,"lat":-1.01},{"p":"p2","c":"blue","lon":133.59,"lat":-1.14},{"p":"p2","c":"blue","lon":133.23,"lat":-1.14},{"p":"p2","c":"blue","lon":133.12,"lat":-1.32},{"p":"p2","c":"blue","lon":132.88,"lat":-1.45},{"p":"p2","c":"blue","lon":132.65,"lat":-1.23},{"p":"p2","c":"blue","lon":132.59,"lat":-0.84},
{"p":"p3","c":"orange","lon":133.76,"lat":-0.75},{"p":"p3","c":"orange","lon":134.11,"lat":-0.8},{"p":"p3","c":"orange","lon":134.05,"lat":-0.93},
{"p":"p4","c":"pale","lon":132.06,"lat":-1.66},{"p":"p4","c":"pale","lon":132.41,"lat":-1.53},{"p":"p4","c":"pale","lon":133.12,"lat":-1.58},{"p":"p4","c":"pale","lon":133.94,"lat":-1.58},{"p":"p4","c":"pale","lon":134.06,"lat":-2.09},{"p":"p4","c":"pale","lon":133.59,"lat":-1.96},{"p":"p4","c":"pale","lon":133.0,"lat":-1.88},{"p":"p4","c":"pale","lon":132.18,"lat":-1.88},
{"p":"p5","c":"orange","lon":132.12,"lat":-1.96},{"p":"p5","c":"orange","lon":132.41,"lat":-2.01},{"p":"p5","c":"orange","lon":133.0,"lat":-1.92},{"p":"p5","c":"orange","lon":133.59,"lat":-1.88},{"p":"p5","c":"orange","lon":134.0,"lat":-2.18},{"p":"p5","c":"orange","lon":133.82,"lat":-2.18},{"p":"p5","c":"orange","lon":132.53,"lat":-2.22},
{"p":"p6","c":"yellow","lon":132.88,"lat":-1.75},{"p":"p6","c":"yellow","lon":133.82,"lat":-1.62},{"p":"p6","c":"yellow","lon":134.0,"lat":-1.88},{"p":"p6","c":"yellow","lon":133.59,"lat":-1.83},{"p":"p6","c":"yellow","lon":132.88,"lat":-1.88},
{"p":"p7","c":"white","lon":132.06,"lat":-2.74},{"p":"p7","c":"white","lon":132.76,"lat":-2.7},{"p":"p7","c":"white","lon":132.88,"lat":-3.3},{"p":"p7","c":"white","lon":132.65,"lat":-3.13},
{"p":"p8","c":"yellow","lon":132.88,"lat":-3.69},{"p":"p8","c":"yellow","lon":133.23,"lat":-3.65},{"p":"p8","c":"yellow","lon":133.35,"lat":-4.04},{"p":"p8","c":"yellow","lon":133.0,"lat":-4.04},
{"p":"p9","c":"pale","lon":133.82,"lat":-3.13},{"p":"p9","c":"pale","lon":134.29,"lat":-3.22},{"p":"p9","c":"pale","lon":134.88,"lat":-3.39},{"p":"p9","c":"pale","lon":135.23,"lat":-4.08},{"p":"p9","c":"pale","lon":134.76,"lat":-3.99},{"p":"p9","c":"pale","lon":134.17,"lat":-3.73},{"p":"p9","c":"pale","lon":133.82,"lat":-3.47},
{"p":"p10","c":"orange","lon":134.23,"lat":-3.65},{"p":"p10","c":"orange","lon":134.76,"lat":-3.73},{"p":"p10","c":"orange","lon":134.99,"lat":-4.25},{"p":"p10","c":"orange","lon":134.76,"lat":-4.08},{"p":"p10","c":"orange","lon":134.29,"lat":-3.91},
{"p":"p11","c":"cyan","lon":135.4,"lat":-3.56},{"p":"p11","c":"cyan","lon":135.58,"lat":-3.35},{"p":"p11","c":"cyan","lon":136.34,"lat":-2.52},{"p":"p11","c":"cyan","lon":137.11,"lat":-2.14},{"p":"p11","c":"cyan","lon":137.63,"lat":-2.14},{"p":"p11","c":"cyan","lon":137.81,"lat":-2.44},{"p":"p11","c":"cyan","lon":137.75,"lat":-2.78},{"p":"p11","c":"cyan","lon":138.05,"lat":-3.04},{"p":"p11","c":"cyan","lon":137.63,"lat":-3.47},{"p":"p11","c":"cyan","lon":136.87,"lat":-3.52},{"p":"p11","c":"cyan","lon":136.4,"lat":-3.65},{"p":"p11","c":"cyan","lon":135.58,"lat":-3.73},
{"p":"p12","c":"blue","lon":136.52,"lat":-3.26},{"p":"p12","c":"blue","lon":136.87,"lat":-2.97},{"p":"p12","c":"blue","lon":137.34,"lat":-2.96},{"p":"p12","c":"blue","lon":137.58,"lat":-3.13},{"p":"p12","c":"blue","lon":137.46,"lat":-3.43},{"p":"p12","c":"blue","lon":136.99,"lat":-3.47},
{"p":"p13","c":"yellow","lon":137.22,"lat":-1.96},{"p":"p13","c":"yellow","lon":137.17,"lat":-1.75},{"p":"p13","c":"yellow","lon":137.87,"lat":-1.47},{"p":"p13","c":"yellow","lon":138.4,"lat":-1.7},{"p":"p13","c":"yellow","lon":138.87,"lat":-1.92},{"p":"p13","c":"yellow","lon":138.4,"lat":-1.96},{"p":"p13","c":"yellow","lon":137.58,"lat":-1.92},
{"p":"p14","c":"orange","lon":139.45,"lat":-2.27},{"p":"p14","c":"orange","lon":140.51,"lat":-2.48},{"p":"p14","c":"orange","lon":141.45,"lat":-2.7},{"p":"p14","c":"orange","lon":143.33,"lat":-3.26},{"p":"p14","c":"orange","lon":144.03,"lat":-3.82},{"p":"p14","c":"orange","lon":145.6,"lat":-4.5},{"p":"p14","c":"orange","lon":145.6,"lat":-7.8},{"p":"p14","c":"orange","lon":144.15,"lat":-7.71},{"p":"p14","c":"orange","lon":143.56,"lat":-8.22},{"p":"p14","c":"orange","lon":143.8,"lat":-8.48},{"p":"p14","c":"orange","lon":143.45,"lat":-9.04},{"p":"p14","c":"orange","lon":142.62,"lat":-9.3},{"p":"p14","c":"orange","lon":141.22,"lat":-9.22},{"p":"p14","c":"orange","lon":140.16,"lat":-8.14},{"p":"p14","c":"orange","lon":138.87,"lat":-8.4},{"p":"p14","c":"orange","lon":138.81,"lat":-7.36},{"p":"p14","c":"orange","lon":138.57,"lat":-6.84},{"p":"p14","c":"orange","lon":138.87,"lat":-6.67},{"p":"p14","c":"orange","lon":138.46,"lat":-6.24},{"p":"p14","c":"orange","lon":138.98,"lat":-6.15},{"p":"p14","c":"orange","lon":140.16,"lat":-5.63},{"p":"p14","c":"orange","lon":142.51,"lat":-5.63},{"p":"p14","c":"orange","lon":143.56,"lat":-5.12},{"p":"p14","c":"orange","lon":142.86,"lat":-4.34},{"p":"p14","c":"orange","lon":140.98,"lat":-4.08},{"p":"p14","c":"orange","lon":140.16,"lat":-3.6},{"p":"p14","c":"orange","lon":139.34,"lat":-2.87},
{"p":"p15","c":"yellow","lon":138.57,"lat":-2.44},{"p":"p15","c":"yellow","lon":138.98,"lat":-2.01},{"p":"p15","c":"yellow","lon":139.57,"lat":-2.22},{"p":"p15","c":"yellow","lon":139.45,"lat":-2.87},{"p":"p15","c":"yellow","lon":140.16,"lat":-3.65},{"p":"p15","c":"yellow","lon":140.98,"lat":-4.17},{"p":"p15","c":"yellow","lon":142.86,"lat":-4.42},{"p":"p15","c":"yellow","lon":143.56,"lat":-5.03},{"p":"p15","c":"yellow","lon":143.45,"lat":-5.55},{"p":"p15","c":"yellow","lon":142.51,"lat":-5.85},{"p":"p15","c":"yellow","lon":141.68,"lat":-5.85},{"p":"p15","c":"yellow","lon":140.16,"lat":-5.89},{"p":"p15","c":"yellow","lon":139.34,"lat":-6.07},{"p":"p15","c":"yellow","lon":138.98,"lat":-6.32},{"p":"p15","c":"yellow","lon":138.52,"lat":-6.24},{"p":"p15","c":"yellow","lon":138.28,"lat":-5.72},{"p":"p15","c":"yellow","lon":138.98,"lat":-5.37},{"p":"p15","c":"yellow","lon":138.87,"lat":-4.94},{"p":"p15","c":"yellow","lon":137.58,"lat":-4.42},{"p":"p15","c":"yellow","lon":136.87,"lat":-4.08},{"p":"p15","c":"yellow","lon":137.22,"lat":-3.82},{"p":"p15","c":"yellow","lon":137.81,"lat":-3.82},{"p":"p15","c":"yellow","lon":139.1,"lat":-3.65},{"p":"p15","c":"yellow","lon":139.34,"lat":-3.56},{"p":"p15","c":"yellow","lon":138.63,"lat":-2.96},
{"p":"p16","c":"pale","lon":137.93,"lat":-2.52},{"p":"p16","c":"pale","lon":138.57,"lat":-2.44},{"p":"p16","c":"pale","lon":138.69,"lat":-3.04},{"p":"p16","c":"pale","lon":139.34,"lat":-3.52},{"p":"p16","c":"pale","lon":138.98,"lat":-3.73},{"p":"p16","c":"pale","lon":137.81,"lat":-3.78},{"p":"p16","c":"pale","lon":136.99,"lat":-3.82},{"p":"p16","c":"pale","lon":136.52,"lat":-3.65},{"p":"p16","c":"pale","lon":137.63,"lat":-3.47},{"p":"p16","c":"pale","lon":138.05,"lat":-3.04},
{"p":"p17","c":"pale","lon":136.99,"lat":-4.17},{"p":"p17","c":"pale","lon":137.69,"lat":-4.47},{"p":"p17","c":"pale","lon":138.87,"lat":-4.94},{"p":"p17","c":"pale","lon":138.98,"lat":-5.37},{"p":"p17","c":"pale","lon":138.52,"lat":-5.81},{"p":"p17","c":"pale","lon":138.28,"lat":-5.72},{"p":"p17","c":"pale","lon":137.58,"lat":-5.03},{"p":"p17","c":"pale","lon":137.34,"lat":-4.77},{"p":"p17","c":"pale","lon":136.87,"lat":-4.34},
{"p":"p18","c":"orange","lon":137.87,"lat":-3.82},{"p":"p18","c":"orange","lon":138.28,"lat":-3.65},{"p":"p18","c":"orange","lon":138.98,"lat":-3.91},{"p":"p18","c":"orange","lon":139.57,"lat":-4.25},{"p":"p18","c":"orange","lon":140.16,"lat":-4.64},{"p":"p18","c":"orange","lon":140.45,"lat":-4.99},{"p":"p18","c":"orange","lon":140.04,"lat":-4.86},{"p":"p18","c":"orange","lon":139.22,"lat":-4.6},{"p":"p18","c":"orange","lon":138.4,"lat":-4.34},{"p":"p18","c":"orange","lon":137.93,"lat":-4.12},
{"p":"p19","c":"pale","lon":140.75,"lat":-4.68},{"p":"p19","c":"pale","lon":141.33,"lat":-4.55},{"p":"p19","c":"pale","lon":142.86,"lat":-4.51},{"p":"p19","c":"pale","lon":143.27,"lat":-4.86},{"p":"p19","c":"pale","lon":143.21,"lat":-5.29},{"p":"p19","c":"pale","lon":142.51,"lat":-5.59},{"p":"p19","c":"pale","lon":141.68,"lat":-5.33},{"p":"p19","c":"pale","lon":141.1,"lat":-5.07},
{"p":"p20","c":"white","lon":141.45,"lat":-4.9},{"p":"p20","c":"white","lon":142.04,"lat":-4.81},{"p":"p20","c":"white","lon":142.98,"lat":-4.94},{"p":"p20","c":"white","lon":143.09,"lat":-5.2},{"p":"p20","c":"white","lon":142.39,"lat":-5.37},{"p":"p20","c":"white","lon":141.57,"lat":-5.2},
{"p":"p21","c":"pale","lon":143.21,"lat":-3.43},{"p":"p21","c":"pale","lon":143.56,"lat":-3.43},{"p":"p21","c":"pale","lon":143.91,"lat":-3.82},{"p":"p21","c":"pale","lon":143.5,"lat":-3.91},
{"p":"p22","c":"red","lon":143.97,"lat":-3.99},{"p":"p22","c":"red","lon":144.32,"lat":-4.25},{"p":"p22","c":"red","lon":144.5,"lat":-4.77},{"p":"p22","c":"red","lon":144.15,"lat":-4.73},{"p":"p22","c":"red","lon":144.09,"lat":-4.34},
{"p":"p23","c":"red","lon":144.15,"lat":-5.55},{"p":"p23","c":"red","lon":143.91,"lat":-5.81},{"p":"p23","c":"red","lon":144.03,"lat":-6.41},{"p":"p23","c":"red","lon":144.74,"lat":-6.24},{"p":"p23","c":"red","lon":145.0,"lat":-6.32},{"p":"p23","c":"red","lon":145.0,"lat":-6.07},{"p":"p23","c":"red","lon":144.27,"lat":-5.98},
{"p":"p24","c":"yellow","lon":142.62,"lat":-6.32},{"p":"p24","c":"yellow","lon":143.21,"lat":-6.15},{"p":"p24","c":"yellow","lon":143.68,"lat":-6.5},{"p":"p24","c":"yellow","lon":143.56,"lat":-6.76},{"p":"p24","c":"yellow","lon":143.91,"lat":-7.1},{"p":"p24","c":"yellow","lon":145.6,"lat":-7.14},{"p":"p24","c":"yellow","lon":145.6,"lat":-7.78},{"p":"p24","c":"yellow","lon":144.15,"lat":-7.71},{"p":"p24","c":"yellow","lon":143.86,"lat":-7.96},{"p":"p24","c":"yellow","lon":143.56,"lat":-7.88},{"p":"p24","c":"yellow","lon":142.98,"lat":-7.27},{"p":"p24","c":"yellow","lon":142.62,"lat":-6.67},
{"p":"p25","c":"pale","lon":143.62,"lat":-7.23},{"p":"p25","c":"pale","lon":144.15,"lat":-7.14},{"p":"p25","c":"pale","lon":145.6,"lat":-7.32},{"p":"p25","c":"pale","lon":145.6,"lat":-7.78},{"p":"p25","c":"pale","lon":144.15,"lat":-7.71},{"p":"p25","c":"pale","lon":143.86,"lat":-7.71},
{"p":"p26","c":"orange","lon":143.03,"lat":-6.71},{"p":"p26","c":"orange","lon":143.45,"lat":-6.8},{"p":"p26","c":"orange","lon":143.33,"lat":-6.93},
{"p":"p27","c":"red","lon":138.98,"lat":-6.97},{"p":"p27","c":"red","lon":140.04,"lat":-7.02},{"p":"p27","c":"red","lon":140.28,"lat":-6.84},{"p":"p27","c":"red","lon":140.98,"lat":-6.63},{"p":"p27","c":"red","lon":141.68,"lat":-7.19},{"p":"p27","c":"red","lon":142.27,"lat":-7.71},{"p":"p27","c":"red","lon":143.09,"lat":-7.97},{"p":"p27","c":"red","lon":142.98,"lat":-8.27},{"p":"p27","c":"red","lon":142.74,"lat":-8.35},{"p":"p27","c":"red","lon":142.74,"lat":-8.92},{"p":"p27","c":"red","lon":142.15,"lat":-9.13},{"p":"p27","c":"red","lon":141.22,"lat":-9.22},{"p":"p27","c":"red","lon":140.63,"lat":-8.66},{"p":"p27","c":"red","lon":140.04,"lat":-8.14},{"p":"p27","c":"red","lon":139.1,"lat":-8.18},{"p":"p27","c":"red","lon":138.87,"lat":-8.4},{"p":"p27","c":"red","lon":138.87,"lat":-8.14},{"p":"p27","c":"red","lon":138.81,"lat":-7.36},{"p":"p27","c":"red","lon":138.57,"lat":-6.84},
{"p":"p28","c":"red","lon":137.69,"lat":-8.4},{"p":"p28","c":"red","lon":138.05,"lat":-7.62},{"p":"p28","c":"red","lon":138.81,"lat":-7.36},{"p":"p28","c":"red","lon":139.04,"lat":-7.71},{"p":"p28","c":"red","lon":138.87,"lat":-8.1},{"p":"p28","c":"red","lon":138.51,"lat":-8.4},
{"p":"p29","c":"orange","lon":134.35,"lat":-5.55},{"p":"p29","c":"orange","lon":134.6,"lat":-5.37},{"p":"p29","c":"orange","lon":134.82,"lat":-5.89},{"p":"p29","c":"orange","lon":134.76,"lat":-6.24},{"p":"p29","c":"orange","lon":134.41,"lat":-6.07},
{"p":"j1","c":"orange","lon":106.23,"lat":-6.3},{"p":"j1","c":"orange","lon":106.84,"lat":-6.43},{"p":"j1","c":"orange","lon":106.84,"lat":-6.64},{"p":"j1","c":"orange","lon":106.53,"lat":-6.85},{"p":"j1","c":"orange","lon":106.23,"lat":-6.64},
{"p":"j2","c":"orange","lon":106.53,"lat":-7.33},{"p":"j2","c":"orange","lon":107.15,"lat":-7.33},{"p":"j2","c":"orange","lon":107.37,"lat":-7.46},{"p":"j2","c":"orange","lon":108.37,"lat":-7.49},{"p":"j2","c":"orange","lon":108.68,"lat":-7.65},{"p":"j2","c":"orange","lon":108.14,"lat":-7.76},{"p":"j2","c":"orange","lon":107.76,"lat":-7.62},{"p":"j2","c":"orange","lon":107.3,"lat":-7.44},
{"p":"j3","c":"orange","lon":126.52,"lat":-8.55},{"p":"j3","c":"orange","lon":127.05,"lat":-8.34},{"p":"j3","c":"orange","lon":127.36,"lat":-8.42},{"p":"j3","c":"orange","lon":126.9,"lat":-8.77},{"p":"j3","c":"orange","lon":126.06,"lat":-9.08},{"p":"j3","c":"orange","lon":126.44,"lat":-8.77},
{"p":"n1","c":"blue","lon":124.13,"lat":8.1},{"p":"n1","c":"blue","lon":125.3,"lat":8.1},{"p":"n1","c":"blue","lon":125.21,"lat":7.81},{"p":"n1","c":"blue","lon":124.88,"lat":7.62},{"p":"n1","c":"blue","lon":124.55,"lat":7.73},{"p":"n1","c":"blue","lon":124.3,"lat":7.49},{"p":"n1","c":"blue","lon":124.05,"lat":7.62},{"p":"n1","c":"blue","lon":123.8,"lat":7.81},
{"p":"n2","c":"blue","lon":124.55,"lat":6.83},{"p":"n2","c":"blue","lon":124.88,"lat":6.83},{"p":"n2","c":"blue","lon":124.8,"lat":6.59},{"p":"n2","c":"blue","lon":124.71,"lat":6.43},{"p":"n2","c":"blue","lon":124.55,"lat":6.64},
{"p":"n3","c":"yellow","lon":125.88,"lat":7.49},{"p":"n3","c":"yellow","lon":126.63,"lat":7.49},{"p":"n3","c":"yellow","lon":126.55,"lat":7.12},{"p":"n3","c":"yellow","lon":126.3,"lat":7.07},{"p":"n3","c":"yellow","lon":125.88,"lat":7.28},
{"p":"n4","c":"orange","lon":125.8,"lat":8.1},{"p":"n4","c":"orange","lon":126.46,"lat":8.1},{"p":"n4","c":"orange","lon":126.63,"lat":7.49},{"p":"n4","c":"orange","lon":126.21,"lat":7.44},{"p":"n4","c":"orange","lon":125.96,"lat":7.54},
{"p":"n5","c":"white","lon":125.55,"lat":8.1},{"p":"n5","c":"white","lon":125.8,"lat":8.1},{"p":"n5","c":"white","lon":125.88,"lat":7.17},{"p":"n5","c":"white","lon":125.55,"lat":7.22},
{"p":"n6","c":"pale","lon":125.13,"lat":6.11},{"p":"n6","c":"pale","lon":125.63,"lat":6.37},{"p":"n6","c":"pale","lon":125.8,"lat":5.95},{"p":"n6","c":"pale","lon":125.38,"lat":5.52}
],"specks":[
{"c":"black","lon":98.35,"lat":7.87},{"c":"black","lon":98.37,"lat":7.6},{"c":"black","lon":98.77,"lat":7.75},{"c":"black","lon":99.06,"lat":7.2},{"c":"black","lon":99.43,"lat":7.23},{"c":"black","lon":99.67,"lat":6.62},{"c":"black","lon":99.22,"lat":6.53},{"c":"black","lon":99.79,"lat":6.32},{"c":"black","lon":100.26,"lat":5.37},{"c":"black","lon":95.3,"lat":5.85},{"c":"black","lon":95.1,"lat":5.68},{"c":"black","lon":95.41,"lat":3.0},{"c":"black","lon":96.64,"lat":2.13},{"c":"black","lon":97.22,"lat":2.14},{"c":"black","lon":97.1,"lat":2.05},{"c":"black","lon":98.53,"lat":1.65},{"c":"black","lon":102.73,"lat":5.92},{"c":"black","lon":102.98,"lat":5.79},{"c":"black","lon":103.7,"lat":4.81},{"c":"black","lon":104.16,"lat":2.78},{"c":"black","lon":103.92,"lat":2.69},{"c":"black","lon":104.33,"lat":2.57},{"c":"black","lon":104.53,"lat":2.46},{"c":"black","lon":105.75,"lat":3.0},{"c":"black","lon":105.96,"lat":3.06},{"c":"black","lon":106.33,"lat":3.21},{"c":"black","lon":106.24,"lat":2.78},{"c":"black","lon":107.03,"lat":0.65},{"c":"black","lon":97.86,"lat":-0.05},{"c":"black","lon":97.3,"lat":0.86},{"c":"black","lon":100.2,"lat":-0.31},{"c":"black","lon":100.55,"lat":-0.6},{"c":"black","lon":101.3,"lat":3.0},
{"c":"black","lon":113.82,"lat":7.4},{"c":"black","lon":113.61,"lat":7.0},{"c":"black","lon":112.64,"lat":5.39},{"c":"black","lon":112.55,"lat":5.05},{"c":"black","lon":107.98,"lat":4.72},{"c":"black","lon":107.78,"lat":3.02},{"c":"black","lon":108.84,"lat":2.93},{"c":"black","lon":109.04,"lat":2.53},{"c":"black","lon":107.49,"lat":1.02},{"c":"black","lon":108.76,"lat":0.79},{"c":"black","lon":112.15,"lat":0.9},{"c":"black","lon":112.35,"lat":-2.68},{"c":"black","lon":116.35,"lat":-0.32},{"c":"black","lon":115.6,"lat":6.23},{"c":"black","lon":118.51,"lat":7.01},{"c":"black","lon":118.47,"lat":6.15},{"c":"black","lon":119.45,"lat":4.8},{"c":"black","lon":118.6,"lat":2.24},{"c":"black","lon":117.17,"lat":7.24},{"c":"black","lon":115.25,"lat":5.33},{"c":"black","lon":117.45,"lat":6.67},{"c":"black","lon":117.53,"lat":3.75},{"c":"black","lon":117.78,"lat":4.07},{"c":"black","lon":117.37,"lat":3.34},{"c":"black","lon":117.94,"lat":0.98},{"c":"black","lon":108.88,"lat":-1.6},{"c":"black","lon":109.21,"lat":-1.25},
{"c":"black","lon":119.73,"lat":-0.03},{"c":"black","lon":121.62,"lat":-0.15},{"c":"black","lon":122.59,"lat":-0.46},{"c":"black","lon":126.15,"lat":0.99},{"c":"black","lon":123.12,"lat":-3.51},{"c":"black","lon":123.12,"lat":-1.8},{"c":"black","lon":123.77,"lat":-1.95},{"c":"black","lon":127.21,"lat":-3.83},{"c":"black","lon":129.93,"lat":-4.53},{"c":"black","lon":123.57,"lat":-5.3},{"c":"black","lon":123.81,"lat":-5.52},{"c":"black","lon":124.06,"lat":-5.95},{"c":"black","lon":122.71,"lat":-6.19},{"c":"black","lon":120.71,"lat":-7.06},{"c":"black","lon":120.99,"lat":-7.29},{"c":"black","lon":121.81,"lat":-7.35},{"c":"black","lon":128.63,"lat":-7.14},{"c":"black","lon":129.52,"lat":-6.74},{"c":"black","lon":130.34,"lat":-0.18},{"c":"black","lon":127.4,"lat":0.76},{"c":"black","lon":127.44,"lat":0.06},{"c":"black","lon":129.81,"lat":-1.16},{"c":"black","lon":129.48,"lat":-0.06},{"c":"black","lon":117.89,"lat":-5.21},
{"c":"black","lon":134.94,"lat":-1.01},{"c":"black","lon":135.23,"lat":-1.49},{"c":"black","lon":131.59,"lat":-2.61},{"c":"black","lon":129.95,"lat":-4.53},{"c":"black","lon":128.66,"lat":-7.12},{"c":"black","lon":131.36,"lat":-3.99},{"c":"black","lon":131.65,"lat":-4.47},{"c":"black","lon":129.71,"lat":-7.88},{"c":"black","lon":127.42,"lat":-7.55},{"c":"black","lon":127.95,"lat":-8.18},{"c":"black","lon":128.89,"lat":-8.21},{"c":"black","lon":140.57,"lat":-2.57},{"c":"black","lon":141.92,"lat":-4.34},{"c":"black","lon":142.2,"lat":-4.34},{"c":"black","lon":142.45,"lat":-4.34},{"c":"black","lon":143.15,"lat":-4.2},{"c":"black","lon":137.98,"lat":-1.85},{"c":"black","lon":136.34,"lat":-3.95},{"c":"black","lon":144.44,"lat":-1.19},{"c":"black","lon":144.21,"lat":-1.4},{"c":"black","lon":143.62,"lat":-1.27},{"c":"black","lon":143.09,"lat":-1.45},{"c":"black","lon":142.86,"lat":-1.7},{"c":"black","lon":138.81,"lat":-1.62},{"c":"black","lon":143.21,"lat":-9.43},{"c":"black","lon":143.15,"lat":-9.78},{"c":"black","lon":144.27,"lat":-9.87},{"c":"black","lon":142.27,"lat":-10.21},{"c":"black","lon":142.21,"lat":-10.69},{"c":"black","lon":144.03,"lat":-10.81},{"c":"black","lon":144.09,"lat":-11.25},{"c":"black","lon":143.92,"lat":-11.85},{"c":"black","lon":144.5,"lat":-10.21},{"c":"black","lon":144.85,"lat":-9.6},{"c":"black","lon":143.8,"lat":-10.04},{"c":"black","lon":143.15,"lat":-10.04},
{"c":"red","lon":118.44,"lat":-5.38},{"c":"red","lon":119.2,"lat":-5.4},{"c":"red","lon":119.08,"lat":-6.84},{"c":"red","lon":118.04,"lat":-7.04},{"c":"red","lon":119.02,"lat":-4.68},{"c":"red","lon":106.56,"lat":-5.6},{"c":"red","lon":110.28,"lat":-5.45},{"c":"red","lon":110.51,"lat":-5.82},{"c":"red","lon":117.83,"lat":-7.41},{"c":"red","lon":121.04,"lat":-6.51},{"c":"orange","lon":100.3,"lat":3.95},{"c":"orange","lon":101.73,"lat":3.65},{"c":"pale","lon":112.46,"lat":0.58},{"c":"yellow","lon":105.65,"lat":-10.51},{"c":"cyan","lon":144.48,"lat":7.25}
],"bar":[{"c":"blue","x0":0,"x1":1},{"c":"cyan","x0":1,"x1":2},{"c":"white","x0":2,"x1":3},{"c":"pale","x0":3,"x1":4},{"c":"yellow","x0":4,"x1":5},{"c":"orange","x0":5,"x1":6},{"c":"red","x0":6,"x1":7}],"frame":[{"x0":0,"x1":7}],"ticks":[{"v":0.964,"h":-0.7,"t":"−0.7"},{"v":1.966,"h":-0.7,"t":"−0.5"},{"v":2.99,"h":-0.7,"t":"−0.3"},{"v":4.016,"h":-0.62,"t":"0.3"},{"v":5.01,"h":-0.62,"t":"0.5"},{"v":6.012,"h":-0.55,"t":"0.7"}]},"spacing":90,"vconcat":[{"width":3127,"height":1257,"resolve":{"axis":{"x":"independent","y":"independent"}},"layer":[{"data":{"name":"coast"},"mark":{"type":"line","filled":true,"interpolate":"linear-closed","clip":true,"strokeWidth":0,"order":null},"encoding":{"x":{"field":"lon","type":"quantitative","scale":{"domain":[95,145],"nice":false},"axis":{"orient":"bottom","values":[100,110,120,130,140],"labelExpr":"datum.value + 'º E'","title":null,"grid":false,"tickSize":31,"tickWidth":2,"tickColor":"black","domainColor":"black","domainWidth":4,"labelFontSize":74,"labelPadding":28,"labelColor":"#111","labelLimit":0}},"y":{"field":"lat","type":"quantitative","scale":{"domain":[-12,8],"nice":false},"axis":{"orient":"left","values":[-12,-8,-4,0,4],"labelExpr":"datum.value == 0 ? '0º' : datum.value > 0 ? datum.value + 'º N' : (-datum.value) + 'º S'","title":null,"grid":false,"tickSize":31,"tickWidth":3,"tickColor":"black","domainColor":"black","domainWidth":4,"labelFontSize":74,"labelPadding":16,"labelColor":"#111","labelLimit":0}},"detail":{"field":"p"},"order":{"value":null},"color":{"field":"c","type":"nominal","legend":null,"scale":{"domain":["blue","cyan","white","pale","yellow","orange","red","black"],"range":["#1a50d6","#68e3ef","#f0f6fa","#fdfcbb","#fef23c","#fb7020","#ec1710","#000000"]}}}},{"data":{"name":"zones"},"mark":{"type":"line","filled":true,"interpolate":"linear-closed","clip":true,"strokeWidth":0,"order":null},"encoding":{"x":{"field":"lon","type":"quantitative","axis":null},"y":{"field":"lat","type":"quantitative","axis":null},"detail":{"field":"p"},"order":{"value":null},"color":{"field":"c","type":"nominal","legend":null}}},{"data":{"name":"coast"},"mark":{"type":"line","interpolate":"linear-closed","clip":true,"color":"black","strokeWidth":4,"order":null},"encoding":{"x":{"field":"lon","type":"quantitative","axis":{"orient":"top","values":[100,110,120,130,140],"labels":false,"title":null,"grid":false,"tickSize":31,"tickWidth":2,"tickColor":"black","domainColor":"black","domainWidth":4}},"y":{"field":"lat","type":"quantitative","axis":{"orient":"right","values":[-12,-8,-4,0,4],"labels":false,"title":null,"grid":false,"tickSize":31,"tickWidth":3,"tickColor":"black","domainColor":"black","domainWidth":4}},"detail":{"field":"p"},"order":{"value":null}}},{"data":{"name":"specks"},"mark":{"type":"circle","size":40,"opacity":1,"clip":true},"encoding":{"x":{"field":"lon","type":"quantitative","axis":null},"y":{"field":"lat","type":"quantitative","axis":null},"color":{"field":"c","type":"nominal","legend":null}}}]},{"width":3127,"height":82,"layer":[{"data":{"name":"bar"},"mark":{"type":"rect"},"encoding":{"x":{"field":"x0","type":"quantitative","scale":{"domain":[-1.278,8.08],"nice":false},"axis":null},"x2":{"field":"x1"},"y":{"datum":0,"type":"quantitative","scale":{"domain":[0,1]},"axis":null},"y2":{"datum":1},"color":{"field":"c","type":"nominal","legend":null,"scale":{"domain":["blue","cyan","white","pale","yellow","orange","red"],"range":["#1a50d6","#68e3ef","#f0f6fa","#fdfcbb","#fef23c","#fb7020","#ec1710"]}}}},{"data":{"name":"frame"},"mark":{"type":"rect","filled":false,"stroke":"#222","strokeWidth":3},"encoding":{"x":{"field":"x0","type":"quantitative"},"x2":{"field":"x1"},"y":{"datum":0,"type":"quantitative"},"y2":{"datum":1}}},{"data":{"name":"ticks"},"mark":{"type":"text","fontSize":70,"color":"#111"},"encoding":{"x":{"field":"v","type":"quantitative"},"y":{"field":"h","type":"quantitative"},"text":{"field":"t"}}}]}]}
